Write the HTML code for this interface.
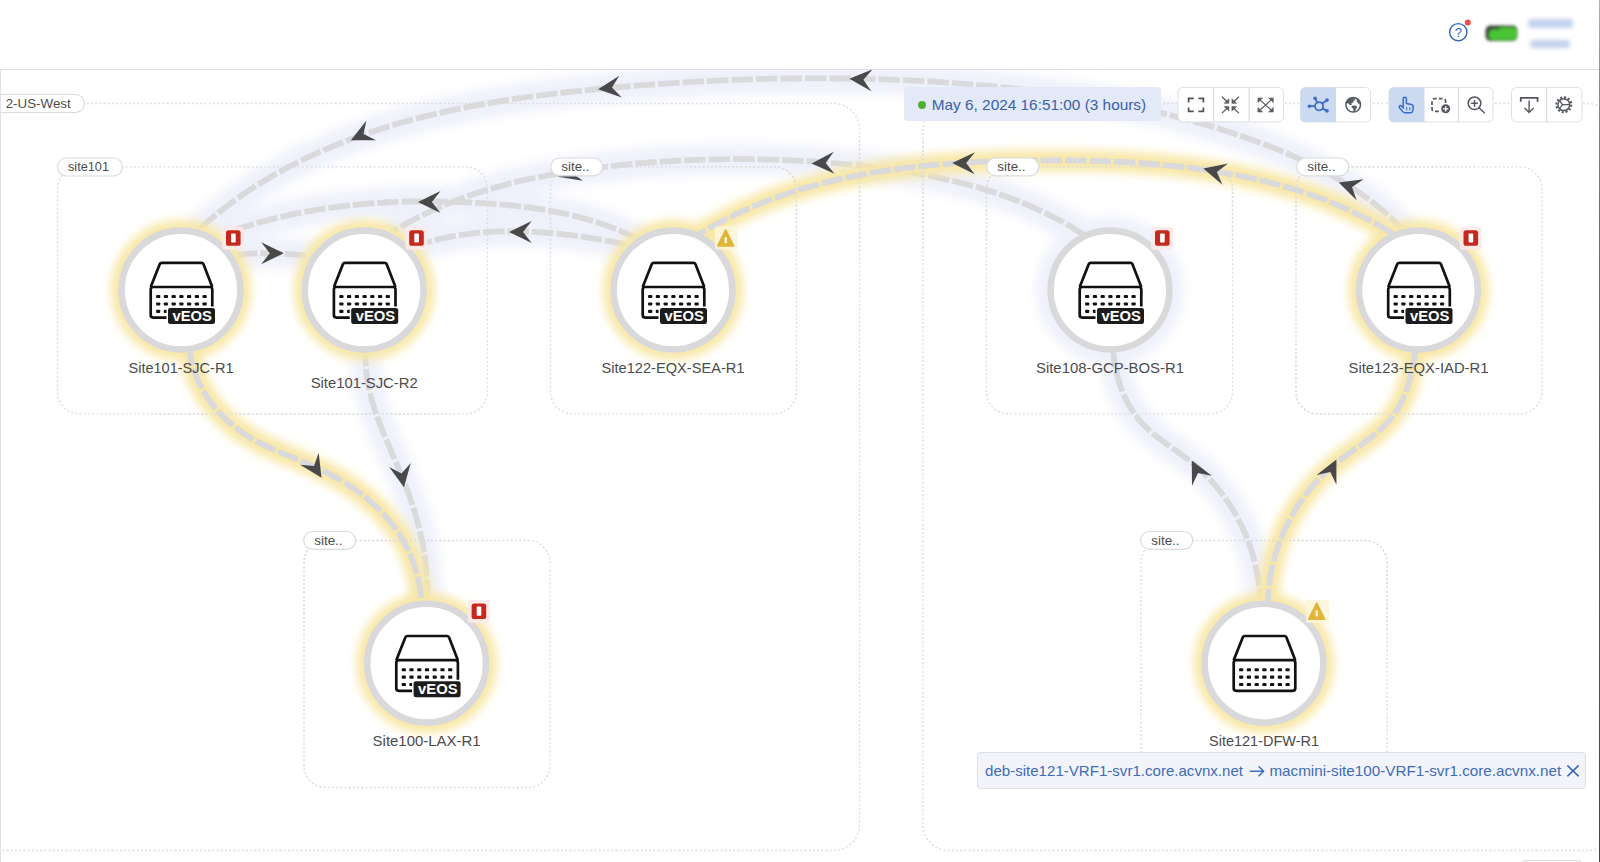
<!DOCTYPE html>
<html lang="en">
<head>
<meta charset="utf-8">
<title>Topology</title>
<style>
html,body{margin:0;padding:0;background:#fff;}
body{width:1600px;height:862px;overflow:hidden;position:relative;font-family:"Liberation Sans", sans-serif;}
#topo{position:absolute;left:0;top:0;}
.hdrline{position:absolute;left:0;top:69px;width:1600px;height:1px;background:#dcdde2;}
.leftline{position:absolute;left:0.3px;top:69px;width:1px;height:793px;background:#e0e1e6;}
.rightline{position:absolute;left:1598.5px;top:0;width:1.5px;height:862px;background:linear-gradient(#b2b0b0 0%,#8c8a8a 10%,#707070 25%,#5e5e5e 50%,#444 100%);}
.date{position:absolute;left:904px;top:87px;width:257px;height:34px;background:#e3e9f6;border-radius:4px;}
.date i{position:absolute;left:13.5px;top:13.5px;width:8.5px;height:8.5px;border-radius:50%;background:#4fae33;}
.grp{position:absolute;top:87px;height:35px;background:#fff;border:1px solid #dcdde2;border-radius:5px;box-sizing:border-box;overflow:hidden;}
.grp b{position:absolute;top:0;height:33px;display:block;}
.grp b.on{background:#cbd9f1;}
.grp b+b{border-left:1px solid #dcdde2;}
.pathlbl{position:absolute;left:977px;top:752px;width:609px;height:36.8px;box-sizing:border-box;background:#f2f4f9;border:1px solid #dcdfe7;border-radius:4px;}
</style>
</head>
<body>
<svg id="topo" width="1600" height="862" viewBox="0 0 1600 862">
<defs>
<filter id="bl" x="-5%" y="-20%" width="110%" height="140%"><feGaussianBlur stdDeviation="6"/></filter>
<filter id="by" x="-5%" y="-20%" width="110%" height="140%"><feGaussianBlur stdDeviation="5"/></filter>
<linearGradient id="edgeR" x1="0" y1="0" x2="0" y2="1"><stop offset="0" stop-color="#d6d6d6"/><stop offset="0.35" stop-color="#8a8a8a"/><stop offset="1" stop-color="#3c3c3c"/></linearGradient>
</defs>
<clipPath id="cv"><rect x="0" y="70" width="1600" height="800"/></clipPath>
<g clip-path="url(#cv)">
<g filter="url(#bl)" fill="none" stroke="#eef0fa" stroke-width="28" stroke-linecap="round">
<path d="M1405.2,231.9 L1399.6,226.0 L1393.7,220.4 L1387.8,214.9 L1381.7,209.6 L1375.4,204.5 L1369.1,199.6 L1362.6,194.9 L1356.1,190.3 L1349.4,186.0 L1342.6,181.7 L1335.8,177.6 L1328.8,173.7 L1321.8,169.9 L1314.7,166.2 L1307.5,162.7 L1300.3,159.3 L1292.9,156.0 L1285.6,152.8 L1278.2,149.7 L1270.7,146.8 L1263.2,143.9 L1255.7,141.1 L1248.1,138.4 L1240.5,135.7 L1232.9,133.2 L1225.3,130.7 L1217.6,128.3 L1210.0,126.0 L1202.3,123.7 L1194.5,121.6 L1186.8,119.5 L1179.0,117.4 L1171.3,115.4 L1163.5,113.5 L1155.6,111.7 L1147.8,109.9 L1140.0,108.2 L1132.1,106.6 L1124.2,105.0 L1116.3,103.5 L1108.4,102.0 L1100.5,100.6 L1092.6,99.2 L1084.6,97.9 L1076.7,96.7 L1068.7,95.5 L1060.8,94.3 L1052.8,93.2 L1044.8,92.1 L1036.8,91.1 L1028.8,90.2 L1020.9,89.3 L1012.9,88.4 L1004.9,87.5 L996.9,86.7 L988.9,86.0 L980.9,85.3 L972.9,84.6 L964.9,83.9 L956.9,83.3 L948.9,82.8 L940.9,82.2 L932.9,81.7 L924.9,81.2 L916.9,80.8 L908.9,80.4 L900.9,80.1 L892.9,79.7 L884.9,79.4 L876.9,79.2 L868.9,78.9 L860.9,78.8 L852.9,78.6 L844.9,78.5 L836.9,78.4 L828.9,78.3 L820.9,78.3 L812.9,78.3 L804.9,78.3 L796.9,78.4 L788.9,78.5 L780.9,78.6 L772.9,78.7 L764.9,78.9 L756.9,79.1 L748.9,79.4 L740.9,79.6 L732.9,79.9 L724.9,80.3 L716.8,80.6 L708.8,81.0 L700.8,81.4 L692.8,81.9 L684.8,82.3 L676.8,82.8 L668.8,83.3 L660.8,83.9 L652.7,84.5 L644.7,85.1 L636.7,85.7 L628.7,86.3 L620.7,87.0 L612.6,87.7 L604.6,88.4 L596.6,89.2 L588.6,90.0 L580.6,90.8 L572.5,91.6 L564.5,92.5 L556.5,93.4 L548.5,94.4 L540.5,95.4 L532.5,96.4 L524.6,97.5 L516.6,98.7 L508.6,99.9 L500.7,101.1 L492.8,102.4 L484.9,103.8 L477.0,105.2 L469.1,106.7 L461.2,108.3 L453.4,109.9 L445.5,111.6 L437.7,113.3 L430.0,115.2 L422.2,117.1 L414.5,119.1 L406.8,121.2 L399.1,123.3 L391.4,125.6 L383.8,127.9 L376.2,130.4 L368.6,132.9 L361.1,135.5 L353.6,138.2 L346.1,141.0 L338.7,144.0 L331.3,147.0 L323.9,150.1 L316.6,153.4 L309.3,156.7 L302.1,160.2 L294.9,163.8 L287.8,167.4 L280.7,171.3 L273.7,175.2 L266.8,179.2 L259.9,183.4 L253.2,187.7 L246.4,192.1 L239.8,196.7 L233.3,201.4 L226.8,206.2 L220.5,211.1 L214.2,216.2 L208.0,221.4 L202.0,226.8 L196.0,232.2"/>
<path d="M1084.6,235.3 L1080.8,232.8 L1076.8,230.4 L1072.9,228.0 L1069.0,225.6 L1065.0,223.3 L1061.0,221.1 L1057.0,218.9 L1053.0,216.8 L1048.9,214.8 L1044.8,212.8 L1040.8,210.8 L1036.7,208.9 L1032.5,207.1 L1028.4,205.3 L1024.3,203.5 L1020.1,201.8 L1015.9,200.2 L1011.7,198.6 L1007.5,197.0 L1003.3,195.5 L999.1,194.0 L994.8,192.6 L990.5,191.2 L986.3,189.9 L982.0,188.6 L977.7,187.3 L973.4,186.1 L969.0,185.0 L964.7,183.8 L960.3,182.7 L956.0,181.6 L951.6,180.6 L947.2,179.6 L942.9,178.6 L938.5,177.7 L934.1,176.8 L929.7,175.9 L925.2,175.1 L920.8,174.3 L916.4,173.5 L911.9,172.7 L907.5,172.0 L903.0,171.3 L898.6,170.6 L894.1,170.0 L889.6,169.4 L885.2,168.8 L880.7,168.2 L876.2,167.6 L871.7,167.1 L867.2,166.5 L862.7,166.0 L858.3,165.5 L853.8,165.1 L849.3,164.6 L844.8,164.2 L840.3,163.8 L835.8,163.4 L831.2,163.0 L826.7,162.6 L822.2,162.3 L817.7,162.0 L813.2,161.7 L808.7,161.4 L804.2,161.1 L799.6,160.8 L795.1,160.6 L790.6,160.4 L786.1,160.2 L781.6,160.0 L777.0,159.8 L772.5,159.7 L768.0,159.6 L763.5,159.5 L758.9,159.4 L754.4,159.3 L749.9,159.2 L745.4,159.2 L740.8,159.2 L736.3,159.2 L731.8,159.2 L727.2,159.2 L722.7,159.3 L718.2,159.3 L713.7,159.4 L709.1,159.5 L704.6,159.6 L700.1,159.8 L695.6,159.9 L691.0,160.1 L686.5,160.3 L682.0,160.5 L677.5,160.7 L672.9,161.0 L668.4,161.3 L663.9,161.5 L659.4,161.8 L654.9,162.2 L650.4,162.5 L645.9,162.9 L641.3,163.2 L636.8,163.6 L632.3,164.0 L627.8,164.5 L623.3,164.9 L618.8,165.4 L614.3,165.8 L609.8,166.3 L605.3,166.8 L600.9,167.4 L596.4,167.9 L591.9,168.5 L587.4,169.1 L582.9,169.7 L578.5,170.3 L574.0,171.0 L569.5,171.7 L565.1,172.4 L560.6,173.1 L556.2,173.9 L551.7,174.6 L547.3,175.4 L542.9,176.3 L538.5,177.1 L534.1,178.0 L529.7,179.0 L525.3,179.9 L520.9,180.9 L516.5,181.9 L512.2,183.0 L507.8,184.1 L503.5,185.2 L499.1,186.4 L494.8,187.6 L490.5,188.8 L486.2,190.1 L481.9,191.4 L477.6,192.8 L473.4,194.2 L469.1,195.7 L464.9,197.1 L460.7,198.7 L456.5,200.3 L452.3,201.9 L448.1,203.6 L443.9,205.3 L439.8,207.1 L435.7,208.9 L431.6,210.8 L427.5,212.7 L423.4,214.7 L419.3,216.7 L415.3,218.8 L411.3,220.9 L407.3,223.1 L403.3,225.3 L399.3,227.7 L395.4,230.0 L391.4,232.4"/>
<path d="M638.4,239.1 L636.0,238.0 L633.7,236.9 L631.4,235.8 L629.0,234.7 L626.7,233.6 L624.3,232.6 L621.9,231.6 L619.6,230.6 L617.2,229.6 L614.8,228.7 L612.4,227.7 L610.0,226.8 L607.6,226.0 L605.2,225.1 L602.7,224.3 L600.3,223.4 L597.9,222.6 L595.4,221.9 L593.0,221.1 L590.5,220.4 L588.1,219.6 L585.6,218.9 L583.1,218.2 L580.6,217.6 L578.2,216.9 L575.7,216.3 L573.2,215.7 L570.7,215.1 L568.2,214.5 L565.7,213.9 L563.2,213.4 L560.7,212.9 L558.1,212.4 L555.6,211.9 L553.1,211.4 L550.6,210.9 L548.0,210.5 L545.5,210.0 L542.9,209.6 L540.4,209.2 L537.8,208.8 L535.3,208.4 L532.7,208.0 L530.2,207.7 L527.6,207.3 L525.1,207.0 L522.5,206.7 L519.9,206.4 L517.3,206.1 L514.8,205.8 L512.2,205.5 L509.6,205.3 L507.0,205.0 L504.5,204.8 L501.9,204.6 L499.3,204.3 L496.7,204.1 L494.1,203.9 L491.5,203.7 L488.9,203.6 L486.3,203.4 L483.8,203.2 L481.2,203.1 L478.6,202.9 L476.0,202.8 L473.4,202.6 L470.8,202.5 L468.2,202.4 L465.6,202.3 L463.0,202.2 L460.4,202.1 L457.8,202.0 L455.2,201.9 L452.6,201.8 L450.0,201.7 L447.4,201.7 L444.8,201.6 L442.2,201.6 L439.7,201.5 L437.1,201.5 L434.5,201.4 L431.9,201.4 L429.3,201.4 L426.7,201.4 L424.1,201.4 L421.5,201.4 L418.9,201.4 L416.3,201.5 L413.7,201.5 L411.1,201.6 L408.6,201.6 L406.0,201.7 L403.4,201.7 L400.8,201.8 L398.2,201.9 L395.6,202.0 L393.0,202.1 L390.5,202.2 L387.9,202.4 L385.3,202.5 L382.7,202.6 L380.1,202.8 L377.5,203.0 L375.0,203.1 L372.4,203.3 L369.8,203.5 L367.2,203.7 L364.7,203.9 L362.1,204.1 L359.5,204.4 L357.0,204.6 L354.4,204.9 L351.8,205.1 L349.3,205.4 L346.7,205.7 L344.1,206.0 L341.6,206.3 L339.0,206.6 L336.5,206.9 L333.9,207.3 L331.4,207.6 L328.8,208.0 L326.3,208.3 L323.7,208.7 L321.2,209.1 L318.6,209.5 L316.1,209.9 L313.5,210.3 L311.0,210.8 L308.5,211.2 L305.9,211.7 L303.4,212.2 L300.9,212.7 L298.3,213.2 L295.8,213.7 L293.3,214.2 L290.8,214.7 L288.2,215.3 L285.7,215.8 L283.2,216.4 L280.7,217.0 L278.2,217.6 L275.7,218.2 L273.2,218.8 L270.7,219.4 L268.2,220.1 L265.7,220.8 L263.2,221.4 L260.7,222.1 L258.2,222.8 L255.7,223.5 L253.2,224.3 L250.7,225.0 L248.3,225.8 L245.8,226.5 L243.3,227.3 L240.9,228.1 L238.4,228.9 L235.9,229.8"/>
<path d="M626.0,244.5 L624.7,244.3 L623.4,244.0 L622.1,243.8 L620.9,243.5 L619.6,243.2 L618.3,243.0 L617.0,242.7 L615.7,242.5 L614.4,242.2 L613.2,242.0 L611.9,241.7 L610.6,241.5 L609.3,241.3 L608.0,241.0 L606.7,240.8 L605.4,240.5 L604.1,240.3 L602.8,240.1 L601.5,239.9 L600.2,239.6 L598.9,239.4 L597.6,239.2 L596.3,239.0 L595.0,238.7 L593.7,238.5 L592.4,238.3 L591.1,238.1 L589.8,237.9 L588.5,237.7 L587.1,237.5 L585.8,237.3 L584.5,237.1 L583.2,236.9 L581.9,236.7 L580.6,236.5 L579.3,236.3 L577.9,236.1 L576.6,236.0 L575.3,235.8 L574.0,235.6 L572.7,235.4 L571.4,235.3 L570.0,235.1 L568.7,234.9 L567.4,234.8 L566.1,234.6 L564.7,234.5 L563.4,234.3 L562.1,234.2 L560.8,234.0 L559.4,233.9 L558.1,233.7 L556.8,233.6 L555.5,233.5 L554.1,233.4 L552.8,233.2 L551.5,233.1 L550.2,233.0 L548.8,232.9 L547.5,232.8 L546.2,232.7 L544.8,232.6 L543.5,232.5 L542.2,232.4 L540.9,232.3 L539.5,232.2 L538.2,232.1 L536.9,232.0 L535.5,231.9 L534.2,231.9 L532.9,231.8 L531.5,231.7 L530.2,231.7 L528.9,231.6 L527.5,231.6 L526.2,231.5 L524.9,231.5 L523.5,231.4 L522.2,231.4 L520.9,231.4 L519.6,231.3 L518.2,231.3 L516.9,231.3 L515.6,231.3 L514.2,231.3 L512.9,231.3 L511.6,231.3 L510.2,231.3 L508.9,231.3 L507.6,231.3 L506.3,231.3 L504.9,231.3 L503.6,231.4 L502.3,231.4 L500.9,231.4 L499.6,231.5 L498.3,231.5 L497.0,231.6 L495.6,231.6 L494.3,231.7 L493.0,231.7 L491.7,231.8 L490.3,231.9 L489.0,232.0 L487.7,232.1 L486.4,232.1 L485.1,232.2 L483.7,232.3 L482.4,232.5 L481.1,232.6 L479.8,232.7 L478.5,232.8 L477.1,232.9 L475.8,233.1 L474.5,233.2 L473.2,233.3 L471.9,233.5 L470.6,233.6 L469.3,233.8 L467.9,234.0 L466.6,234.1 L465.3,234.3 L464.0,234.5 L462.7,234.7 L461.4,234.9 L460.1,235.1 L458.8,235.3 L457.5,235.5 L456.2,235.7 L454.9,235.9 L453.6,236.2 L452.3,236.4 L451.0,236.7 L449.7,236.9 L448.4,237.2 L447.1,237.4 L445.8,237.7 L444.5,238.0 L443.2,238.2 L441.9,238.5 L440.7,238.8 L439.4,239.1 L438.1,239.4 L436.8,239.7 L435.5,240.0 L434.2,240.4 L433.0,240.7 L431.7,241.0 L430.4,241.4 L429.1,241.7 L427.9,242.1 L426.6,242.4 L425.3,242.8 L424.0,243.2 L422.8,243.6 L421.5,244.0 L420.3,244.3 L419.0,244.8 L417.7,245.2"/>
<path d="M236.0,255.4 L236.5,255.3 L236.9,255.3 L237.4,255.2 L237.9,255.1 L238.4,255.0 L238.9,255.0 L239.3,254.9 L239.8,254.8 L240.3,254.7 L240.8,254.7 L241.3,254.6 L241.8,254.5 L242.2,254.5 L242.7,254.4 L243.2,254.4 L243.7,254.3 L244.2,254.3 L244.6,254.2 L245.1,254.1 L245.6,254.1 L246.1,254.0 L246.6,254.0 L247.1,254.0 L247.5,253.9 L248.0,253.9 L248.5,253.8 L249.0,253.8 L249.5,253.7 L250.0,253.7 L250.4,253.7 L250.9,253.6 L251.4,253.6 L251.9,253.6 L252.4,253.5 L252.9,253.5 L253.3,253.5 L253.8,253.4 L254.3,253.4 L254.8,253.4 L255.3,253.4 L255.8,253.4 L256.3,253.3 L256.7,253.3 L257.2,253.3 L257.7,253.3 L258.2,253.3 L258.7,253.2 L259.2,253.2 L259.7,253.2 L260.1,253.2 L260.6,253.2 L261.1,253.2 L261.6,253.2 L262.1,253.2 L262.6,253.2 L263.1,253.2 L263.5,253.2 L264.0,253.2 L264.5,253.2 L265.0,253.2 L265.5,253.2 L266.0,253.2 L266.5,253.2 L266.9,253.2 L267.4,253.2 L267.9,253.2 L268.4,253.2 L268.9,253.2 L269.4,253.2 L269.9,253.2 L270.4,253.2 L270.8,253.2 L271.3,253.2 L271.8,253.3 L272.3,253.3 L272.8,253.3 L273.3,253.3 L273.8,253.3 L274.2,253.3 L274.7,253.3 L275.2,253.4 L275.7,253.4 L276.2,253.4 L276.7,253.4 L277.2,253.4 L277.6,253.5 L278.1,253.5 L278.6,253.5 L279.1,253.5 L279.6,253.6 L280.1,253.6 L280.6,253.6 L281.1,253.6 L281.5,253.7 L282.0,253.7 L282.5,253.7 L283.0,253.7 L283.5,253.8 L284.0,253.8 L284.5,253.8 L284.9,253.9 L285.4,253.9 L285.9,253.9 L286.4,253.9 L286.9,254.0 L287.4,254.0 L287.9,254.0 L288.3,254.1 L288.8,254.1 L289.3,254.1 L289.8,254.2 L290.3,254.2 L290.8,254.2 L291.3,254.3 L291.7,254.3 L292.2,254.3 L292.7,254.4 L293.2,254.4 L293.7,254.5 L294.2,254.5 L294.7,254.5 L295.1,254.6 L295.6,254.6 L296.1,254.6 L296.6,254.7 L297.1,254.7 L297.6,254.8 L298.0,254.8 L298.5,254.8 L299.0,254.9 L299.5,254.9 L300.0,254.9 L300.5,255.0 L300.9,255.0 L301.4,255.1 L301.9,255.1 L302.4,255.1 L302.9,255.2 L303.4,255.2 L303.8,255.2 L304.3,255.3 L304.8,255.3 L305.3,255.4 L305.8,255.4 L306.3,255.4 L306.7,255.5 L307.2,255.5 L307.7,255.5 L308.2,255.6 L308.7,255.6 L309.1,255.7 L309.6,255.7 L310.1,255.7 L310.6,255.8 L311.1,255.8 L311.5,255.8 L312.0,255.9 L312.5,255.9 L313.0,255.9"/>
<path d="M366.2,344.6 L366.1,346.5 L365.9,348.3 L365.8,350.1 L365.7,351.9 L365.7,353.7 L365.6,355.5 L365.6,357.3 L365.6,359.1 L365.6,360.8 L365.7,362.6 L365.8,364.4 L365.9,366.1 L366.0,367.9 L366.1,369.6 L366.3,371.3 L366.5,373.1 L366.7,374.8 L366.9,376.5 L367.1,378.2 L367.4,379.9 L367.7,381.6 L368.0,383.3 L368.3,385.0 L368.6,386.7 L369.0,388.4 L369.3,390.1 L369.7,391.7 L370.1,393.4 L370.5,395.1 L370.9,396.7 L371.4,398.4 L371.8,400.0 L372.3,401.7 L372.8,403.3 L373.3,405.0 L373.8,406.6 L374.3,408.2 L374.8,409.9 L375.4,411.5 L375.9,413.1 L376.5,414.7 L377.1,416.4 L377.6,418.0 L378.2,419.6 L378.8,421.2 L379.4,422.8 L380.1,424.4 L380.7,426.0 L381.3,427.6 L381.9,429.2 L382.6,430.8 L383.2,432.4 L383.9,434.0 L384.6,435.6 L385.2,437.2 L385.9,438.8 L386.6,440.4 L387.2,442.0 L387.9,443.5 L388.6,445.1 L389.3,446.7 L390.0,448.3 L390.7,449.9 L391.3,451.5 L392.0,453.1 L392.7,454.6 L393.4,456.2 L394.1,457.8 L394.8,459.4 L395.5,461.0 L396.2,462.6 L396.8,464.2 L397.5,465.8 L398.2,467.4 L398.9,468.9 L399.5,470.5 L400.2,472.1 L400.9,473.7 L401.5,475.3 L402.2,476.9 L402.8,478.5 L403.4,480.1 L404.1,481.7 L404.7,483.3 L405.3,485.0 L405.9,486.6 L406.6,488.2 L407.2,489.8 L407.8,491.4 L408.3,493.0 L408.9,494.6 L409.5,496.3 L410.1,497.9 L410.6,499.5 L411.2,501.1 L411.7,502.8 L412.3,504.4 L412.8,506.0 L413.3,507.7 L413.9,509.3 L414.4,510.9 L414.9,512.6 L415.4,514.2 L415.8,515.9 L416.3,517.5 L416.8,519.2 L417.2,520.8 L417.7,522.5 L418.1,524.1 L418.6,525.8 L419.0,527.5 L419.4,529.1 L419.8,530.8 L420.2,532.5 L420.6,534.1 L420.9,535.8 L421.3,537.5 L421.7,539.2 L422.0,540.8 L422.3,542.5 L422.6,544.2 L423.0,545.9 L423.3,547.6 L423.5,549.3 L423.8,551.0 L424.1,552.7 L424.3,554.4 L424.6,556.1 L424.8,557.8 L425.0,559.5 L425.2,561.2 L425.4,562.9 L425.6,564.6 L425.8,566.4 L425.9,568.1 L426.1,569.8 L426.2,571.5 L426.3,573.3 L426.4,575.0 L426.5,576.7 L426.6,578.5 L426.7,580.2 L426.7,582.0 L426.8,583.7 L426.8,585.5 L426.8,587.2 L426.8,589.0 L426.8,590.7 L426.7,592.5 L426.7,594.3 L426.6,596.0 L426.5,597.8 L426.4,599.6 L426.3,601.4 L426.2,603.1 L426.1,604.9 L425.9,606.7 L425.8,608.5 L425.6,610.3"/>
<path d="M1260.7,610.2 L1260.7,608.1 L1260.7,606.1 L1260.6,604.1 L1260.6,602.1 L1260.5,600.1 L1260.4,598.0 L1260.2,596.0 L1260.1,594.0 L1259.9,592.0 L1259.7,590.0 L1259.5,588.0 L1259.3,586.0 L1259.0,584.0 L1258.7,582.0 L1258.4,580.0 L1258.1,578.0 L1257.8,576.1 L1257.4,574.1 L1257.0,572.1 L1256.6,570.2 L1256.2,568.2 L1255.8,566.3 L1255.3,564.3 L1254.9,562.4 L1254.4,560.4 L1253.8,558.5 L1253.3,556.6 L1252.7,554.7 L1252.2,552.7 L1251.6,550.8 L1251.0,548.9 L1250.3,547.1 L1249.7,545.2 L1249.0,543.3 L1248.3,541.4 L1247.6,539.6 L1246.9,537.7 L1246.1,535.9 L1245.3,534.0 L1244.5,532.2 L1243.7,530.4 L1242.9,528.6 L1242.1,526.8 L1241.2,525.0 L1240.3,523.2 L1239.4,521.5 L1238.5,519.7 L1237.6,517.9 L1236.6,516.2 L1235.7,514.5 L1234.7,512.7 L1233.7,511.0 L1232.7,509.3 L1231.6,507.6 L1230.6,506.0 L1229.5,504.3 L1228.4,502.6 L1227.3,501.0 L1226.1,499.4 L1225.0,497.8 L1223.8,496.2 L1222.7,494.6 L1221.5,493.0 L1220.2,491.4 L1219.0,489.9 L1217.8,488.3 L1216.5,486.8 L1215.2,485.3 L1213.9,483.8 L1212.6,482.3 L1211.3,480.8 L1209.9,479.3 L1208.6,477.9 L1207.2,476.5 L1205.8,475.1 L1204.4,473.6 L1203.0,472.3 L1201.5,470.9 L1200.1,469.5 L1198.6,468.2 L1197.1,466.9 L1195.6,465.6 L1194.1,464.3 L1192.5,463.0 L1191.0,461.7 L1189.4,460.5 L1187.8,459.3 L1186.2,458.1 L1184.6,456.9 L1183.0,455.7 L1181.4,454.5 L1179.8,453.3 L1178.1,452.1 L1176.5,451.0 L1174.9,449.8 L1173.2,448.7 L1171.6,447.5 L1170.0,446.4 L1168.3,445.2 L1166.7,444.0 L1165.1,442.9 L1163.5,441.7 L1161.9,440.5 L1160.3,439.3 L1158.7,438.1 L1157.1,436.9 L1155.6,435.7 L1154.0,434.4 L1152.5,433.2 L1151.0,431.9 L1149.5,430.6 L1148.1,429.3 L1146.7,427.9 L1145.3,426.5 L1143.9,425.2 L1142.5,423.7 L1141.2,422.3 L1139.9,420.8 L1138.6,419.3 L1137.4,417.8 L1136.2,416.2 L1135.0,414.7 L1133.9,413.1 L1132.8,411.4 L1131.7,409.8 L1130.6,408.1 L1129.6,406.4 L1128.6,404.7 L1127.7,402.9 L1126.8,401.2 L1125.9,399.4 L1125.0,397.6 L1124.2,395.8 L1123.4,393.9 L1122.6,392.1 L1121.9,390.2 L1121.2,388.3 L1120.5,386.4 L1119.9,384.5 L1119.2,382.5 L1118.6,380.6 L1118.1,378.6 L1117.6,376.7 L1117.1,374.7 L1116.6,372.7 L1116.1,370.7 L1115.7,368.7 L1115.3,366.7 L1115.0,364.8 L1114.6,362.8 L1114.3,360.8 L1114.0,358.8 L1113.7,356.8 L1113.5,354.8 L1113.3,352.8 L1113.1,350.8 L1112.9,348.9 L1112.8,346.9 L1112.6,344.9"/>
<circle cx="1110" cy="290" r="62" stroke-width="22"/>
</g>
<g fill="none" stroke="#dcdde1" stroke-width="1.35" stroke-dasharray="2 2.2">
<rect x="-40" y="103.5" width="899.5" height="747" rx="26"/>
<rect x="922.8" y="103.5" width="691.2" height="747" rx="26"/>
<rect x="57.5" y="166.8" width="430" height="247" rx="22"/>
<rect x="550.5" y="166.8" width="246" height="247" rx="22"/>
<rect x="986.5" y="166.8" width="246" height="247" rx="22"/>
<rect x="1296" y="166.8" width="246" height="247" rx="22"/>
<rect x="304" y="540.5" width="246" height="247" rx="22"/>
<rect x="1141" y="540.5" width="246" height="247" rx="22"/>
</g>
<g fill="none" stroke="#dad9dc" stroke-width="5.8" stroke-dasharray="21.5 3">
<path d="M1405.2,231.9 L1399.6,226.0 L1393.7,220.4 L1387.8,214.9 L1381.7,209.6 L1375.4,204.5 L1369.1,199.6 L1362.6,194.9 L1356.1,190.3 L1349.4,186.0 L1342.6,181.7 L1335.8,177.6 L1328.8,173.7 L1321.8,169.9 L1314.7,166.2 L1307.5,162.7 L1300.3,159.3 L1292.9,156.0 L1285.6,152.8 L1278.2,149.7 L1270.7,146.8 L1263.2,143.9 L1255.7,141.1 L1248.1,138.4 L1240.5,135.7 L1232.9,133.2 L1225.3,130.7 L1217.6,128.3 L1210.0,126.0 L1202.3,123.7 L1194.5,121.6 L1186.8,119.5 L1179.0,117.4 L1171.3,115.4 L1163.5,113.5 L1155.6,111.7 L1147.8,109.9 L1140.0,108.2 L1132.1,106.6 L1124.2,105.0 L1116.3,103.5 L1108.4,102.0 L1100.5,100.6 L1092.6,99.2 L1084.6,97.9 L1076.7,96.7 L1068.7,95.5 L1060.8,94.3 L1052.8,93.2 L1044.8,92.1 L1036.8,91.1 L1028.8,90.2 L1020.9,89.3 L1012.9,88.4 L1004.9,87.5 L996.9,86.7 L988.9,86.0 L980.9,85.3 L972.9,84.6 L964.9,83.9 L956.9,83.3 L948.9,82.8 L940.9,82.2 L932.9,81.7 L924.9,81.2 L916.9,80.8 L908.9,80.4 L900.9,80.1 L892.9,79.7 L884.9,79.4 L876.9,79.2 L868.9,78.9 L860.9,78.8 L852.9,78.6 L844.9,78.5 L836.9,78.4 L828.9,78.3 L820.9,78.3 L812.9,78.3 L804.9,78.3 L796.9,78.4 L788.9,78.5 L780.9,78.6 L772.9,78.7 L764.9,78.9 L756.9,79.1 L748.9,79.4 L740.9,79.6 L732.9,79.9 L724.9,80.3 L716.8,80.6 L708.8,81.0 L700.8,81.4 L692.8,81.9 L684.8,82.3 L676.8,82.8 L668.8,83.3 L660.8,83.9 L652.7,84.5 L644.7,85.1 L636.7,85.7 L628.7,86.3 L620.7,87.0 L612.6,87.7 L604.6,88.4 L596.6,89.2 L588.6,90.0 L580.6,90.8 L572.5,91.6 L564.5,92.5 L556.5,93.4 L548.5,94.4 L540.5,95.4 L532.5,96.4 L524.6,97.5 L516.6,98.7 L508.6,99.9 L500.7,101.1 L492.8,102.4 L484.9,103.8 L477.0,105.2 L469.1,106.7 L461.2,108.3 L453.4,109.9 L445.5,111.6 L437.7,113.3 L430.0,115.2 L422.2,117.1 L414.5,119.1 L406.8,121.2 L399.1,123.3 L391.4,125.6 L383.8,127.9 L376.2,130.4 L368.6,132.9 L361.1,135.5 L353.6,138.2 L346.1,141.0 L338.7,144.0 L331.3,147.0 L323.9,150.1 L316.6,153.4 L309.3,156.7 L302.1,160.2 L294.9,163.8 L287.8,167.4 L280.7,171.3 L273.7,175.2 L266.8,179.2 L259.9,183.4 L253.2,187.7 L246.4,192.1 L239.8,196.7 L233.3,201.4 L226.8,206.2 L220.5,211.1 L214.2,216.2 L208.0,221.4 L202.0,226.8 L196.0,232.2"/>
<path d="M1084.6,235.3 L1080.8,232.8 L1076.8,230.4 L1072.9,228.0 L1069.0,225.6 L1065.0,223.3 L1061.0,221.1 L1057.0,218.9 L1053.0,216.8 L1048.9,214.8 L1044.8,212.8 L1040.8,210.8 L1036.7,208.9 L1032.5,207.1 L1028.4,205.3 L1024.3,203.5 L1020.1,201.8 L1015.9,200.2 L1011.7,198.6 L1007.5,197.0 L1003.3,195.5 L999.1,194.0 L994.8,192.6 L990.5,191.2 L986.3,189.9 L982.0,188.6 L977.7,187.3 L973.4,186.1 L969.0,185.0 L964.7,183.8 L960.3,182.7 L956.0,181.6 L951.6,180.6 L947.2,179.6 L942.9,178.6 L938.5,177.7 L934.1,176.8 L929.7,175.9 L925.2,175.1 L920.8,174.3 L916.4,173.5 L911.9,172.7 L907.5,172.0 L903.0,171.3 L898.6,170.6 L894.1,170.0 L889.6,169.4 L885.2,168.8 L880.7,168.2 L876.2,167.6 L871.7,167.1 L867.2,166.5 L862.7,166.0 L858.3,165.5 L853.8,165.1 L849.3,164.6 L844.8,164.2 L840.3,163.8 L835.8,163.4 L831.2,163.0 L826.7,162.6 L822.2,162.3 L817.7,162.0 L813.2,161.7 L808.7,161.4 L804.2,161.1 L799.6,160.8 L795.1,160.6 L790.6,160.4 L786.1,160.2 L781.6,160.0 L777.0,159.8 L772.5,159.7 L768.0,159.6 L763.5,159.5 L758.9,159.4 L754.4,159.3 L749.9,159.2 L745.4,159.2 L740.8,159.2 L736.3,159.2 L731.8,159.2 L727.2,159.2 L722.7,159.3 L718.2,159.3 L713.7,159.4 L709.1,159.5 L704.6,159.6 L700.1,159.8 L695.6,159.9 L691.0,160.1 L686.5,160.3 L682.0,160.5 L677.5,160.7 L672.9,161.0 L668.4,161.3 L663.9,161.5 L659.4,161.8 L654.9,162.2 L650.4,162.5 L645.9,162.9 L641.3,163.2 L636.8,163.6 L632.3,164.0 L627.8,164.5 L623.3,164.9 L618.8,165.4 L614.3,165.8 L609.8,166.3 L605.3,166.8 L600.9,167.4 L596.4,167.9 L591.9,168.5 L587.4,169.1 L582.9,169.7 L578.5,170.3 L574.0,171.0 L569.5,171.7 L565.1,172.4 L560.6,173.1 L556.2,173.9 L551.7,174.6 L547.3,175.4 L542.9,176.3 L538.5,177.1 L534.1,178.0 L529.7,179.0 L525.3,179.9 L520.9,180.9 L516.5,181.9 L512.2,183.0 L507.8,184.1 L503.5,185.2 L499.1,186.4 L494.8,187.6 L490.5,188.8 L486.2,190.1 L481.9,191.4 L477.6,192.8 L473.4,194.2 L469.1,195.7 L464.9,197.1 L460.7,198.7 L456.5,200.3 L452.3,201.9 L448.1,203.6 L443.9,205.3 L439.8,207.1 L435.7,208.9 L431.6,210.8 L427.5,212.7 L423.4,214.7 L419.3,216.7 L415.3,218.8 L411.3,220.9 L407.3,223.1 L403.3,225.3 L399.3,227.7 L395.4,230.0 L391.4,232.4"/>
<path d="M638.4,239.1 L636.0,238.0 L633.7,236.9 L631.4,235.8 L629.0,234.7 L626.7,233.6 L624.3,232.6 L621.9,231.6 L619.6,230.6 L617.2,229.6 L614.8,228.7 L612.4,227.7 L610.0,226.8 L607.6,226.0 L605.2,225.1 L602.7,224.3 L600.3,223.4 L597.9,222.6 L595.4,221.9 L593.0,221.1 L590.5,220.4 L588.1,219.6 L585.6,218.9 L583.1,218.2 L580.6,217.6 L578.2,216.9 L575.7,216.3 L573.2,215.7 L570.7,215.1 L568.2,214.5 L565.7,213.9 L563.2,213.4 L560.7,212.9 L558.1,212.4 L555.6,211.9 L553.1,211.4 L550.6,210.9 L548.0,210.5 L545.5,210.0 L542.9,209.6 L540.4,209.2 L537.8,208.8 L535.3,208.4 L532.7,208.0 L530.2,207.7 L527.6,207.3 L525.1,207.0 L522.5,206.7 L519.9,206.4 L517.3,206.1 L514.8,205.8 L512.2,205.5 L509.6,205.3 L507.0,205.0 L504.5,204.8 L501.9,204.6 L499.3,204.3 L496.7,204.1 L494.1,203.9 L491.5,203.7 L488.9,203.6 L486.3,203.4 L483.8,203.2 L481.2,203.1 L478.6,202.9 L476.0,202.8 L473.4,202.6 L470.8,202.5 L468.2,202.4 L465.6,202.3 L463.0,202.2 L460.4,202.1 L457.8,202.0 L455.2,201.9 L452.6,201.8 L450.0,201.7 L447.4,201.7 L444.8,201.6 L442.2,201.6 L439.7,201.5 L437.1,201.5 L434.5,201.4 L431.9,201.4 L429.3,201.4 L426.7,201.4 L424.1,201.4 L421.5,201.4 L418.9,201.4 L416.3,201.5 L413.7,201.5 L411.1,201.6 L408.6,201.6 L406.0,201.7 L403.4,201.7 L400.8,201.8 L398.2,201.9 L395.6,202.0 L393.0,202.1 L390.5,202.2 L387.9,202.4 L385.3,202.5 L382.7,202.6 L380.1,202.8 L377.5,203.0 L375.0,203.1 L372.4,203.3 L369.8,203.5 L367.2,203.7 L364.7,203.9 L362.1,204.1 L359.5,204.4 L357.0,204.6 L354.4,204.9 L351.8,205.1 L349.3,205.4 L346.7,205.7 L344.1,206.0 L341.6,206.3 L339.0,206.6 L336.5,206.9 L333.9,207.3 L331.4,207.6 L328.8,208.0 L326.3,208.3 L323.7,208.7 L321.2,209.1 L318.6,209.5 L316.1,209.9 L313.5,210.3 L311.0,210.8 L308.5,211.2 L305.9,211.7 L303.4,212.2 L300.9,212.7 L298.3,213.2 L295.8,213.7 L293.3,214.2 L290.8,214.7 L288.2,215.3 L285.7,215.8 L283.2,216.4 L280.7,217.0 L278.2,217.6 L275.7,218.2 L273.2,218.8 L270.7,219.4 L268.2,220.1 L265.7,220.8 L263.2,221.4 L260.7,222.1 L258.2,222.8 L255.7,223.5 L253.2,224.3 L250.7,225.0 L248.3,225.8 L245.8,226.5 L243.3,227.3 L240.9,228.1 L238.4,228.9 L235.9,229.8"/>
<path d="M626.0,244.5 L624.7,244.3 L623.4,244.0 L622.1,243.8 L620.9,243.5 L619.6,243.2 L618.3,243.0 L617.0,242.7 L615.7,242.5 L614.4,242.2 L613.2,242.0 L611.9,241.7 L610.6,241.5 L609.3,241.3 L608.0,241.0 L606.7,240.8 L605.4,240.5 L604.1,240.3 L602.8,240.1 L601.5,239.9 L600.2,239.6 L598.9,239.4 L597.6,239.2 L596.3,239.0 L595.0,238.7 L593.7,238.5 L592.4,238.3 L591.1,238.1 L589.8,237.9 L588.5,237.7 L587.1,237.5 L585.8,237.3 L584.5,237.1 L583.2,236.9 L581.9,236.7 L580.6,236.5 L579.3,236.3 L577.9,236.1 L576.6,236.0 L575.3,235.8 L574.0,235.6 L572.7,235.4 L571.4,235.3 L570.0,235.1 L568.7,234.9 L567.4,234.8 L566.1,234.6 L564.7,234.5 L563.4,234.3 L562.1,234.2 L560.8,234.0 L559.4,233.9 L558.1,233.7 L556.8,233.6 L555.5,233.5 L554.1,233.4 L552.8,233.2 L551.5,233.1 L550.2,233.0 L548.8,232.9 L547.5,232.8 L546.2,232.7 L544.8,232.6 L543.5,232.5 L542.2,232.4 L540.9,232.3 L539.5,232.2 L538.2,232.1 L536.9,232.0 L535.5,231.9 L534.2,231.9 L532.9,231.8 L531.5,231.7 L530.2,231.7 L528.9,231.6 L527.5,231.6 L526.2,231.5 L524.9,231.5 L523.5,231.4 L522.2,231.4 L520.9,231.4 L519.6,231.3 L518.2,231.3 L516.9,231.3 L515.6,231.3 L514.2,231.3 L512.9,231.3 L511.6,231.3 L510.2,231.3 L508.9,231.3 L507.6,231.3 L506.3,231.3 L504.9,231.3 L503.6,231.4 L502.3,231.4 L500.9,231.4 L499.6,231.5 L498.3,231.5 L497.0,231.6 L495.6,231.6 L494.3,231.7 L493.0,231.7 L491.7,231.8 L490.3,231.9 L489.0,232.0 L487.7,232.1 L486.4,232.1 L485.1,232.2 L483.7,232.3 L482.4,232.5 L481.1,232.6 L479.8,232.7 L478.5,232.8 L477.1,232.9 L475.8,233.1 L474.5,233.2 L473.2,233.3 L471.9,233.5 L470.6,233.6 L469.3,233.8 L467.9,234.0 L466.6,234.1 L465.3,234.3 L464.0,234.5 L462.7,234.7 L461.4,234.9 L460.1,235.1 L458.8,235.3 L457.5,235.5 L456.2,235.7 L454.9,235.9 L453.6,236.2 L452.3,236.4 L451.0,236.7 L449.7,236.9 L448.4,237.2 L447.1,237.4 L445.8,237.7 L444.5,238.0 L443.2,238.2 L441.9,238.5 L440.7,238.8 L439.4,239.1 L438.1,239.4 L436.8,239.7 L435.5,240.0 L434.2,240.4 L433.0,240.7 L431.7,241.0 L430.4,241.4 L429.1,241.7 L427.9,242.1 L426.6,242.4 L425.3,242.8 L424.0,243.2 L422.8,243.6 L421.5,244.0 L420.3,244.3 L419.0,244.8 L417.7,245.2"/>
<path d="M236.0,255.4 L236.5,255.3 L236.9,255.3 L237.4,255.2 L237.9,255.1 L238.4,255.0 L238.9,255.0 L239.3,254.9 L239.8,254.8 L240.3,254.7 L240.8,254.7 L241.3,254.6 L241.8,254.5 L242.2,254.5 L242.7,254.4 L243.2,254.4 L243.7,254.3 L244.2,254.3 L244.6,254.2 L245.1,254.1 L245.6,254.1 L246.1,254.0 L246.6,254.0 L247.1,254.0 L247.5,253.9 L248.0,253.9 L248.5,253.8 L249.0,253.8 L249.5,253.7 L250.0,253.7 L250.4,253.7 L250.9,253.6 L251.4,253.6 L251.9,253.6 L252.4,253.5 L252.9,253.5 L253.3,253.5 L253.8,253.4 L254.3,253.4 L254.8,253.4 L255.3,253.4 L255.8,253.4 L256.3,253.3 L256.7,253.3 L257.2,253.3 L257.7,253.3 L258.2,253.3 L258.7,253.2 L259.2,253.2 L259.7,253.2 L260.1,253.2 L260.6,253.2 L261.1,253.2 L261.6,253.2 L262.1,253.2 L262.6,253.2 L263.1,253.2 L263.5,253.2 L264.0,253.2 L264.5,253.2 L265.0,253.2 L265.5,253.2 L266.0,253.2 L266.5,253.2 L266.9,253.2 L267.4,253.2 L267.9,253.2 L268.4,253.2 L268.9,253.2 L269.4,253.2 L269.9,253.2 L270.4,253.2 L270.8,253.2 L271.3,253.2 L271.8,253.3 L272.3,253.3 L272.8,253.3 L273.3,253.3 L273.8,253.3 L274.2,253.3 L274.7,253.3 L275.2,253.4 L275.7,253.4 L276.2,253.4 L276.7,253.4 L277.2,253.4 L277.6,253.5 L278.1,253.5 L278.6,253.5 L279.1,253.5 L279.6,253.6 L280.1,253.6 L280.6,253.6 L281.1,253.6 L281.5,253.7 L282.0,253.7 L282.5,253.7 L283.0,253.7 L283.5,253.8 L284.0,253.8 L284.5,253.8 L284.9,253.9 L285.4,253.9 L285.9,253.9 L286.4,253.9 L286.9,254.0 L287.4,254.0 L287.9,254.0 L288.3,254.1 L288.8,254.1 L289.3,254.1 L289.8,254.2 L290.3,254.2 L290.8,254.2 L291.3,254.3 L291.7,254.3 L292.2,254.3 L292.7,254.4 L293.2,254.4 L293.7,254.5 L294.2,254.5 L294.7,254.5 L295.1,254.6 L295.6,254.6 L296.1,254.6 L296.6,254.7 L297.1,254.7 L297.6,254.8 L298.0,254.8 L298.5,254.8 L299.0,254.9 L299.5,254.9 L300.0,254.9 L300.5,255.0 L300.9,255.0 L301.4,255.1 L301.9,255.1 L302.4,255.1 L302.9,255.2 L303.4,255.2 L303.8,255.2 L304.3,255.3 L304.8,255.3 L305.3,255.4 L305.8,255.4 L306.3,255.4 L306.7,255.5 L307.2,255.5 L307.7,255.5 L308.2,255.6 L308.7,255.6 L309.1,255.7 L309.6,255.7 L310.1,255.7 L310.6,255.8 L311.1,255.8 L311.5,255.8 L312.0,255.9 L312.5,255.9 L313.0,255.9"/>
<path d="M366.2,344.6 L366.1,346.5 L365.9,348.3 L365.8,350.1 L365.7,351.9 L365.7,353.7 L365.6,355.5 L365.6,357.3 L365.6,359.1 L365.6,360.8 L365.7,362.6 L365.8,364.4 L365.9,366.1 L366.0,367.9 L366.1,369.6 L366.3,371.3 L366.5,373.1 L366.7,374.8 L366.9,376.5 L367.1,378.2 L367.4,379.9 L367.7,381.6 L368.0,383.3 L368.3,385.0 L368.6,386.7 L369.0,388.4 L369.3,390.1 L369.7,391.7 L370.1,393.4 L370.5,395.1 L370.9,396.7 L371.4,398.4 L371.8,400.0 L372.3,401.7 L372.8,403.3 L373.3,405.0 L373.8,406.6 L374.3,408.2 L374.8,409.9 L375.4,411.5 L375.9,413.1 L376.5,414.7 L377.1,416.4 L377.6,418.0 L378.2,419.6 L378.8,421.2 L379.4,422.8 L380.1,424.4 L380.7,426.0 L381.3,427.6 L381.9,429.2 L382.6,430.8 L383.2,432.4 L383.9,434.0 L384.6,435.6 L385.2,437.2 L385.9,438.8 L386.6,440.4 L387.2,442.0 L387.9,443.5 L388.6,445.1 L389.3,446.7 L390.0,448.3 L390.7,449.9 L391.3,451.5 L392.0,453.1 L392.7,454.6 L393.4,456.2 L394.1,457.8 L394.8,459.4 L395.5,461.0 L396.2,462.6 L396.8,464.2 L397.5,465.8 L398.2,467.4 L398.9,468.9 L399.5,470.5 L400.2,472.1 L400.9,473.7 L401.5,475.3 L402.2,476.9 L402.8,478.5 L403.4,480.1 L404.1,481.7 L404.7,483.3 L405.3,485.0 L405.9,486.6 L406.6,488.2 L407.2,489.8 L407.8,491.4 L408.3,493.0 L408.9,494.6 L409.5,496.3 L410.1,497.9 L410.6,499.5 L411.2,501.1 L411.7,502.8 L412.3,504.4 L412.8,506.0 L413.3,507.7 L413.9,509.3 L414.4,510.9 L414.9,512.6 L415.4,514.2 L415.8,515.9 L416.3,517.5 L416.8,519.2 L417.2,520.8 L417.7,522.5 L418.1,524.1 L418.6,525.8 L419.0,527.5 L419.4,529.1 L419.8,530.8 L420.2,532.5 L420.6,534.1 L420.9,535.8 L421.3,537.5 L421.7,539.2 L422.0,540.8 L422.3,542.5 L422.6,544.2 L423.0,545.9 L423.3,547.6 L423.5,549.3 L423.8,551.0 L424.1,552.7 L424.3,554.4 L424.6,556.1 L424.8,557.8 L425.0,559.5 L425.2,561.2 L425.4,562.9 L425.6,564.6 L425.8,566.4 L425.9,568.1 L426.1,569.8 L426.2,571.5 L426.3,573.3 L426.4,575.0 L426.5,576.7 L426.6,578.5 L426.7,580.2 L426.7,582.0 L426.8,583.7 L426.8,585.5 L426.8,587.2 L426.8,589.0 L426.8,590.7 L426.7,592.5 L426.7,594.3 L426.6,596.0 L426.5,597.8 L426.4,599.6 L426.3,601.4 L426.2,603.1 L426.1,604.9 L425.9,606.7 L425.8,608.5 L425.6,610.3"/>
<path d="M1260.7,610.2 L1260.7,608.1 L1260.7,606.1 L1260.6,604.1 L1260.6,602.1 L1260.5,600.1 L1260.4,598.0 L1260.2,596.0 L1260.1,594.0 L1259.9,592.0 L1259.7,590.0 L1259.5,588.0 L1259.3,586.0 L1259.0,584.0 L1258.7,582.0 L1258.4,580.0 L1258.1,578.0 L1257.8,576.1 L1257.4,574.1 L1257.0,572.1 L1256.6,570.2 L1256.2,568.2 L1255.8,566.3 L1255.3,564.3 L1254.9,562.4 L1254.4,560.4 L1253.8,558.5 L1253.3,556.6 L1252.7,554.7 L1252.2,552.7 L1251.6,550.8 L1251.0,548.9 L1250.3,547.1 L1249.7,545.2 L1249.0,543.3 L1248.3,541.4 L1247.6,539.6 L1246.9,537.7 L1246.1,535.9 L1245.3,534.0 L1244.5,532.2 L1243.7,530.4 L1242.9,528.6 L1242.1,526.8 L1241.2,525.0 L1240.3,523.2 L1239.4,521.5 L1238.5,519.7 L1237.6,517.9 L1236.6,516.2 L1235.7,514.5 L1234.7,512.7 L1233.7,511.0 L1232.7,509.3 L1231.6,507.6 L1230.6,506.0 L1229.5,504.3 L1228.4,502.6 L1227.3,501.0 L1226.1,499.4 L1225.0,497.8 L1223.8,496.2 L1222.7,494.6 L1221.5,493.0 L1220.2,491.4 L1219.0,489.9 L1217.8,488.3 L1216.5,486.8 L1215.2,485.3 L1213.9,483.8 L1212.6,482.3 L1211.3,480.8 L1209.9,479.3 L1208.6,477.9 L1207.2,476.5 L1205.8,475.1 L1204.4,473.6 L1203.0,472.3 L1201.5,470.9 L1200.1,469.5 L1198.6,468.2 L1197.1,466.9 L1195.6,465.6 L1194.1,464.3 L1192.5,463.0 L1191.0,461.7 L1189.4,460.5 L1187.8,459.3 L1186.2,458.1 L1184.6,456.9 L1183.0,455.7 L1181.4,454.5 L1179.8,453.3 L1178.1,452.1 L1176.5,451.0 L1174.9,449.8 L1173.2,448.7 L1171.6,447.5 L1170.0,446.4 L1168.3,445.2 L1166.7,444.0 L1165.1,442.9 L1163.5,441.7 L1161.9,440.5 L1160.3,439.3 L1158.7,438.1 L1157.1,436.9 L1155.6,435.7 L1154.0,434.4 L1152.5,433.2 L1151.0,431.9 L1149.5,430.6 L1148.1,429.3 L1146.7,427.9 L1145.3,426.5 L1143.9,425.2 L1142.5,423.7 L1141.2,422.3 L1139.9,420.8 L1138.6,419.3 L1137.4,417.8 L1136.2,416.2 L1135.0,414.7 L1133.9,413.1 L1132.8,411.4 L1131.7,409.8 L1130.6,408.1 L1129.6,406.4 L1128.6,404.7 L1127.7,402.9 L1126.8,401.2 L1125.9,399.4 L1125.0,397.6 L1124.2,395.8 L1123.4,393.9 L1122.6,392.1 L1121.9,390.2 L1121.2,388.3 L1120.5,386.4 L1119.9,384.5 L1119.2,382.5 L1118.6,380.6 L1118.1,378.6 L1117.6,376.7 L1117.1,374.7 L1116.6,372.7 L1116.1,370.7 L1115.7,368.7 L1115.3,366.7 L1115.0,364.8 L1114.6,362.8 L1114.3,360.8 L1114.0,358.8 L1113.7,356.8 L1113.5,354.8 L1113.3,352.8 L1113.1,350.8 L1112.9,348.9 L1112.8,346.9 L1112.6,344.9"/>
</g>
<g filter="url(#by)" fill="none" stroke="#f8e7a6" stroke-width="21" stroke-linecap="round">
<path d="M1392.5,233.6 L1388.6,231.1 L1384.7,228.7 L1380.7,226.4 L1376.7,224.1 L1372.7,221.9 L1368.7,219.7 L1364.7,217.6 L1360.6,215.6 L1356.5,213.6 L1352.4,211.6 L1348.3,209.7 L1344.2,207.8 L1340.1,206.0 L1335.9,204.3 L1331.7,202.6 L1327.6,200.9 L1323.4,199.3 L1319.2,197.7 L1314.9,196.2 L1310.7,194.7 L1306.4,193.2 L1302.2,191.8 L1297.9,190.5 L1293.6,189.1 L1289.3,187.9 L1285.0,186.6 L1280.7,185.4 L1276.4,184.2 L1272.1,183.1 L1267.7,182.0 L1263.4,180.9 L1259.0,179.9 L1254.6,178.9 L1250.3,178.0 L1245.9,177.0 L1241.5,176.1 L1237.1,175.2 L1232.7,174.4 L1228.3,173.6 L1223.9,172.8 L1219.5,172.1 L1215.0,171.3 L1210.6,170.6 L1206.2,170.0 L1201.7,169.3 L1197.3,168.7 L1192.8,168.1 L1188.3,167.6 L1183.9,167.1 L1179.4,166.5 L1174.9,166.1 L1170.4,165.6 L1166.0,165.2 L1161.5,164.7 L1157.0,164.3 L1152.5,164.0 L1148.0,163.6 L1143.5,163.3 L1138.9,163.0 L1134.4,162.7 L1129.9,162.4 L1125.4,162.2 L1120.9,162.0 L1116.3,161.8 L1111.8,161.6 L1107.3,161.4 L1102.8,161.2 L1098.2,161.1 L1093.7,161.0 L1089.1,160.8 L1084.6,160.7 L1080.1,160.7 L1075.5,160.6 L1071.0,160.5 L1066.4,160.5 L1061.9,160.5 L1057.3,160.5 L1052.8,160.5 L1048.2,160.5 L1043.7,160.5 L1039.1,160.5 L1034.6,160.5 L1030.0,160.6 L1025.5,160.6 L1020.9,160.7 L1016.4,160.8 L1011.8,160.9 L1007.3,161.0 L1002.7,161.1 L998.2,161.2 L993.7,161.4 L989.1,161.6 L984.6,161.7 L980.0,161.9 L975.5,162.1 L971.0,162.4 L966.5,162.6 L961.9,162.9 L957.4,163.1 L952.9,163.4 L948.4,163.8 L943.9,164.1 L939.4,164.5 L934.9,164.8 L930.4,165.2 L925.9,165.7 L921.4,166.1 L916.9,166.6 L912.4,167.1 L907.9,167.6 L903.5,168.1 L899.0,168.7 L894.6,169.3 L890.1,169.9 L885.7,170.6 L881.2,171.3 L876.8,172.0 L872.4,172.7 L868.0,173.5 L863.5,174.2 L859.1,175.1 L854.7,175.9 L850.4,176.8 L846.0,177.7 L841.6,178.7 L837.2,179.7 L832.9,180.7 L828.5,181.7 L824.2,182.8 L819.9,183.9 L815.6,185.1 L811.2,186.3 L806.9,187.5 L802.6,188.8 L798.4,190.1 L794.1,191.4 L789.8,192.8 L785.6,194.2 L781.3,195.7 L777.1,197.2 L772.9,198.7 L768.7,200.3 L764.5,201.9 L760.3,203.6 L756.1,205.3 L752.0,207.1 L747.8,208.9 L743.7,210.7 L739.6,212.6 L735.5,214.5 L731.4,216.5 L727.3,218.6 L723.2,220.6 L719.1,222.8 L715.1,224.9 L711.1,227.2 L707.0,229.4 L703.0,231.7 L699.1,234.1"/>
<path d="M189.0,344.6 L189.2,347.1 L189.5,349.6 L189.8,352.1 L190.2,354.6 L190.6,357.0 L191.1,359.4 L191.6,361.8 L192.2,364.2 L192.8,366.5 L193.5,368.8 L194.2,371.1 L195.0,373.4 L195.8,375.6 L196.7,377.8 L197.6,380.0 L198.6,382.1 L199.6,384.3 L200.7,386.4 L201.8,388.4 L202.9,390.5 L204.1,392.5 L205.3,394.5 L206.5,396.5 L207.8,398.4 L209.2,400.3 L210.5,402.2 L212.0,404.1 L213.4,405.9 L214.9,407.7 L216.4,409.5 L217.9,411.2 L219.5,413.0 L221.1,414.7 L222.8,416.3 L224.4,418.0 L226.1,419.6 L227.8,421.1 L229.6,422.7 L231.4,424.2 L233.2,425.7 L235.0,427.2 L236.9,428.6 L238.8,430.0 L240.7,431.4 L242.6,432.7 L244.5,434.1 L246.5,435.3 L248.5,436.6 L250.5,437.8 L252.5,439.0 L254.6,440.2 L256.6,441.3 L258.7,442.4 L260.8,443.5 L262.9,444.6 L265.0,445.6 L267.2,446.6 L269.3,447.6 L271.5,448.6 L273.6,449.6 L275.8,450.5 L278.0,451.4 L280.2,452.4 L282.4,453.3 L284.5,454.2 L286.7,455.1 L288.9,456.0 L291.1,456.9 L293.3,457.8 L295.5,458.7 L297.7,459.6 L299.9,460.5 L302.1,461.4 L304.3,462.3 L306.5,463.2 L308.7,464.2 L310.9,465.1 L313.0,466.1 L315.2,467.1 L317.4,468.1 L319.5,469.1 L321.6,470.1 L323.8,471.2 L325.9,472.2 L328.0,473.3 L330.1,474.4 L332.2,475.5 L334.3,476.6 L336.3,477.8 L338.4,479.0 L340.4,480.2 L342.5,481.4 L344.5,482.6 L346.5,483.8 L348.5,485.1 L350.5,486.4 L352.4,487.7 L354.4,489.1 L356.3,490.4 L358.3,491.8 L360.2,493.2 L362.0,494.7 L363.9,496.1 L365.8,497.6 L367.6,499.1 L369.4,500.7 L371.2,502.2 L372.9,503.8 L374.7,505.4 L376.4,507.0 L378.1,508.6 L379.8,510.3 L381.4,512.0 L383.1,513.7 L384.7,515.4 L386.2,517.2 L387.8,518.9 L389.3,520.7 L390.8,522.6 L392.2,524.4 L393.7,526.3 L395.1,528.1 L396.4,530.0 L397.8,532.0 L399.1,533.9 L400.3,535.9 L401.6,537.9 L402.8,539.9 L404.0,541.9 L405.1,544.0 L406.2,546.1 L407.2,548.2 L408.3,550.3 L409.2,552.4 L410.2,554.6 L411.1,556.8 L412.0,559.0 L412.8,561.2 L413.6,563.4 L414.4,565.6 L415.1,567.9 L415.8,570.2 L416.4,572.5 L417.0,574.8 L417.6,577.1 L418.2,579.4 L418.7,581.8 L419.2,584.1 L419.6,586.4 L420.0,588.8 L420.4,591.2 L420.7,593.5 L421.1,595.9 L421.3,598.3 L421.6,600.6 L421.8,603.0 L422.0,605.4 L422.2,607.8 L422.3,610.1"/>
<path d="M1267.9,610.3 L1267.9,608.2 L1267.9,606.2 L1267.9,604.1 L1267.9,602.1 L1268.0,600.0 L1268.1,598.0 L1268.2,596.0 L1268.3,593.9 L1268.5,591.9 L1268.7,589.9 L1268.8,587.9 L1269.1,585.9 L1269.3,583.9 L1269.6,581.9 L1269.8,579.9 L1270.1,577.9 L1270.5,575.9 L1270.8,573.9 L1271.2,571.9 L1271.6,570.0 L1272.0,568.0 L1272.4,566.0 L1272.9,564.1 L1273.3,562.2 L1273.8,560.2 L1274.3,558.3 L1274.9,556.4 L1275.4,554.5 L1276.0,552.6 L1276.6,550.7 L1277.2,548.8 L1277.8,546.9 L1278.5,545.0 L1279.1,543.1 L1279.8,541.3 L1280.5,539.4 L1281.3,537.6 L1282.0,535.7 L1282.8,533.9 L1283.6,532.1 L1284.4,530.3 L1285.2,528.5 L1286.1,526.7 L1286.9,524.9 L1287.8,523.2 L1288.7,521.4 L1289.6,519.7 L1290.6,517.9 L1291.5,516.2 L1292.5,514.5 L1293.5,512.8 L1294.5,511.1 L1295.5,509.4 L1296.6,507.7 L1297.7,506.0 L1298.7,504.4 L1299.8,502.7 L1301.0,501.1 L1302.1,499.5 L1303.3,497.9 L1304.4,496.3 L1305.6,494.7 L1306.8,493.1 L1308.0,491.6 L1309.3,490.0 L1310.5,488.5 L1311.8,487.0 L1313.1,485.5 L1314.4,484.0 L1315.7,482.5 L1317.1,481.0 L1318.4,479.6 L1319.8,478.2 L1321.2,476.7 L1322.6,475.3 L1324.0,473.9 L1325.5,472.5 L1326.9,471.2 L1328.4,469.8 L1329.9,468.5 L1331.4,467.2 L1332.9,465.9 L1334.5,464.6 L1336.0,463.3 L1337.6,462.0 L1339.1,460.8 L1340.7,459.6 L1342.3,458.3 L1344.0,457.1 L1345.6,455.9 L1347.2,454.7 L1348.9,453.6 L1350.5,452.4 L1352.1,451.2 L1353.8,450.0 L1355.4,448.9 L1357.1,447.7 L1358.7,446.5 L1360.4,445.4 L1362.0,444.2 L1363.6,443.0 L1365.2,441.8 L1366.8,440.6 L1368.4,439.4 L1370.0,438.2 L1371.6,437.0 L1373.1,435.8 L1374.7,434.5 L1376.2,433.3 L1377.7,432.0 L1379.2,430.7 L1380.6,429.4 L1382.1,428.0 L1383.5,426.7 L1384.8,425.3 L1386.2,423.9 L1387.5,422.5 L1388.8,421.0 L1390.1,419.5 L1391.3,418.0 L1392.5,416.5 L1393.6,414.9 L1394.7,413.3 L1395.8,411.7 L1396.9,410.0 L1397.9,408.3 L1398.9,406.6 L1399.9,404.9 L1400.8,403.2 L1401.7,401.4 L1402.5,399.6 L1403.4,397.8 L1404.1,395.9 L1404.9,394.1 L1405.6,392.2 L1406.3,390.3 L1407.0,388.4 L1407.7,386.5 L1408.3,384.6 L1408.9,382.6 L1409.4,380.6 L1409.9,378.7 L1410.5,376.7 L1410.9,374.7 L1411.4,372.7 L1411.8,370.7 L1412.3,368.7 L1412.7,366.7 L1413.0,364.7 L1413.4,362.7 L1413.7,360.7 L1414.1,358.7 L1414.4,356.7 L1414.7,354.7 L1414.9,352.7 L1415.2,350.8 L1415.4,348.8 L1415.7,346.8 L1415.9,344.9"/>
<circle cx="181" cy="290" r="62.5" stroke-width="15"/>
<circle cx="364.2" cy="290" r="62.5" stroke-width="15"/>
<circle cx="673" cy="290" r="62.5" stroke-width="15"/>
<circle cx="1418.5" cy="290" r="62.5" stroke-width="15"/>
<circle cx="426.6" cy="663.2" r="62.5" stroke-width="15"/>
<circle cx="1264" cy="663.2" r="62.5" stroke-width="15"/>
</g>
<clipPath id="ygl"><rect x="690" y="140" width="760" height="110"/><rect x="150" y="340" width="300" height="290"/><rect x="1240" y="340" width="200" height="290"/></clipPath>
<g clip-path="url(#ygl)">
<g fill="none" stroke="#dcdde1" stroke-width="1.35" stroke-dasharray="2 2.2">
<rect x="-40" y="103.5" width="899.5" height="747" rx="26"/>
<rect x="922.8" y="103.5" width="691.2" height="747" rx="26"/>
<rect x="57.5" y="166.8" width="430" height="247" rx="22"/>
<rect x="550.5" y="166.8" width="246" height="247" rx="22"/>
<rect x="986.5" y="166.8" width="246" height="247" rx="22"/>
<rect x="1296" y="166.8" width="246" height="247" rx="22"/>
<rect x="304" y="540.5" width="246" height="247" rx="22"/>
<rect x="1141" y="540.5" width="246" height="247" rx="22"/>
</g>
</g>
<g fill="none" stroke="#dad9dc" stroke-width="5.8" stroke-dasharray="21.5 3">
<path d="M1392.5,233.6 L1388.6,231.1 L1384.7,228.7 L1380.7,226.4 L1376.7,224.1 L1372.7,221.9 L1368.7,219.7 L1364.7,217.6 L1360.6,215.6 L1356.5,213.6 L1352.4,211.6 L1348.3,209.7 L1344.2,207.8 L1340.1,206.0 L1335.9,204.3 L1331.7,202.6 L1327.6,200.9 L1323.4,199.3 L1319.2,197.7 L1314.9,196.2 L1310.7,194.7 L1306.4,193.2 L1302.2,191.8 L1297.9,190.5 L1293.6,189.1 L1289.3,187.9 L1285.0,186.6 L1280.7,185.4 L1276.4,184.2 L1272.1,183.1 L1267.7,182.0 L1263.4,180.9 L1259.0,179.9 L1254.6,178.9 L1250.3,178.0 L1245.9,177.0 L1241.5,176.1 L1237.1,175.2 L1232.7,174.4 L1228.3,173.6 L1223.9,172.8 L1219.5,172.1 L1215.0,171.3 L1210.6,170.6 L1206.2,170.0 L1201.7,169.3 L1197.3,168.7 L1192.8,168.1 L1188.3,167.6 L1183.9,167.1 L1179.4,166.5 L1174.9,166.1 L1170.4,165.6 L1166.0,165.2 L1161.5,164.7 L1157.0,164.3 L1152.5,164.0 L1148.0,163.6 L1143.5,163.3 L1138.9,163.0 L1134.4,162.7 L1129.9,162.4 L1125.4,162.2 L1120.9,162.0 L1116.3,161.8 L1111.8,161.6 L1107.3,161.4 L1102.8,161.2 L1098.2,161.1 L1093.7,161.0 L1089.1,160.8 L1084.6,160.7 L1080.1,160.7 L1075.5,160.6 L1071.0,160.5 L1066.4,160.5 L1061.9,160.5 L1057.3,160.5 L1052.8,160.5 L1048.2,160.5 L1043.7,160.5 L1039.1,160.5 L1034.6,160.5 L1030.0,160.6 L1025.5,160.6 L1020.9,160.7 L1016.4,160.8 L1011.8,160.9 L1007.3,161.0 L1002.7,161.1 L998.2,161.2 L993.7,161.4 L989.1,161.6 L984.6,161.7 L980.0,161.9 L975.5,162.1 L971.0,162.4 L966.5,162.6 L961.9,162.9 L957.4,163.1 L952.9,163.4 L948.4,163.8 L943.9,164.1 L939.4,164.5 L934.9,164.8 L930.4,165.2 L925.9,165.7 L921.4,166.1 L916.9,166.6 L912.4,167.1 L907.9,167.6 L903.5,168.1 L899.0,168.7 L894.6,169.3 L890.1,169.9 L885.7,170.6 L881.2,171.3 L876.8,172.0 L872.4,172.7 L868.0,173.5 L863.5,174.2 L859.1,175.1 L854.7,175.9 L850.4,176.8 L846.0,177.7 L841.6,178.7 L837.2,179.7 L832.9,180.7 L828.5,181.7 L824.2,182.8 L819.9,183.9 L815.6,185.1 L811.2,186.3 L806.9,187.5 L802.6,188.8 L798.4,190.1 L794.1,191.4 L789.8,192.8 L785.6,194.2 L781.3,195.7 L777.1,197.2 L772.9,198.7 L768.7,200.3 L764.5,201.9 L760.3,203.6 L756.1,205.3 L752.0,207.1 L747.8,208.9 L743.7,210.7 L739.6,212.6 L735.5,214.5 L731.4,216.5 L727.3,218.6 L723.2,220.6 L719.1,222.8 L715.1,224.9 L711.1,227.2 L707.0,229.4 L703.0,231.7 L699.1,234.1"/>
<path d="M189.0,344.6 L189.2,347.1 L189.5,349.6 L189.8,352.1 L190.2,354.6 L190.6,357.0 L191.1,359.4 L191.6,361.8 L192.2,364.2 L192.8,366.5 L193.5,368.8 L194.2,371.1 L195.0,373.4 L195.8,375.6 L196.7,377.8 L197.6,380.0 L198.6,382.1 L199.6,384.3 L200.7,386.4 L201.8,388.4 L202.9,390.5 L204.1,392.5 L205.3,394.5 L206.5,396.5 L207.8,398.4 L209.2,400.3 L210.5,402.2 L212.0,404.1 L213.4,405.9 L214.9,407.7 L216.4,409.5 L217.9,411.2 L219.5,413.0 L221.1,414.7 L222.8,416.3 L224.4,418.0 L226.1,419.6 L227.8,421.1 L229.6,422.7 L231.4,424.2 L233.2,425.7 L235.0,427.2 L236.9,428.6 L238.8,430.0 L240.7,431.4 L242.6,432.7 L244.5,434.1 L246.5,435.3 L248.5,436.6 L250.5,437.8 L252.5,439.0 L254.6,440.2 L256.6,441.3 L258.7,442.4 L260.8,443.5 L262.9,444.6 L265.0,445.6 L267.2,446.6 L269.3,447.6 L271.5,448.6 L273.6,449.6 L275.8,450.5 L278.0,451.4 L280.2,452.4 L282.4,453.3 L284.5,454.2 L286.7,455.1 L288.9,456.0 L291.1,456.9 L293.3,457.8 L295.5,458.7 L297.7,459.6 L299.9,460.5 L302.1,461.4 L304.3,462.3 L306.5,463.2 L308.7,464.2 L310.9,465.1 L313.0,466.1 L315.2,467.1 L317.4,468.1 L319.5,469.1 L321.6,470.1 L323.8,471.2 L325.9,472.2 L328.0,473.3 L330.1,474.4 L332.2,475.5 L334.3,476.6 L336.3,477.8 L338.4,479.0 L340.4,480.2 L342.5,481.4 L344.5,482.6 L346.5,483.8 L348.5,485.1 L350.5,486.4 L352.4,487.7 L354.4,489.1 L356.3,490.4 L358.3,491.8 L360.2,493.2 L362.0,494.7 L363.9,496.1 L365.8,497.6 L367.6,499.1 L369.4,500.7 L371.2,502.2 L372.9,503.8 L374.7,505.4 L376.4,507.0 L378.1,508.6 L379.8,510.3 L381.4,512.0 L383.1,513.7 L384.7,515.4 L386.2,517.2 L387.8,518.9 L389.3,520.7 L390.8,522.6 L392.2,524.4 L393.7,526.3 L395.1,528.1 L396.4,530.0 L397.8,532.0 L399.1,533.9 L400.3,535.9 L401.6,537.9 L402.8,539.9 L404.0,541.9 L405.1,544.0 L406.2,546.1 L407.2,548.2 L408.3,550.3 L409.2,552.4 L410.2,554.6 L411.1,556.8 L412.0,559.0 L412.8,561.2 L413.6,563.4 L414.4,565.6 L415.1,567.9 L415.8,570.2 L416.4,572.5 L417.0,574.8 L417.6,577.1 L418.2,579.4 L418.7,581.8 L419.2,584.1 L419.6,586.4 L420.0,588.8 L420.4,591.2 L420.7,593.5 L421.1,595.9 L421.3,598.3 L421.6,600.6 L421.8,603.0 L422.0,605.4 L422.2,607.8 L422.3,610.1"/>
<path d="M1267.9,610.3 L1267.9,608.2 L1267.9,606.2 L1267.9,604.1 L1267.9,602.1 L1268.0,600.0 L1268.1,598.0 L1268.2,596.0 L1268.3,593.9 L1268.5,591.9 L1268.7,589.9 L1268.8,587.9 L1269.1,585.9 L1269.3,583.9 L1269.6,581.9 L1269.8,579.9 L1270.1,577.9 L1270.5,575.9 L1270.8,573.9 L1271.2,571.9 L1271.6,570.0 L1272.0,568.0 L1272.4,566.0 L1272.9,564.1 L1273.3,562.2 L1273.8,560.2 L1274.3,558.3 L1274.9,556.4 L1275.4,554.5 L1276.0,552.6 L1276.6,550.7 L1277.2,548.8 L1277.8,546.9 L1278.5,545.0 L1279.1,543.1 L1279.8,541.3 L1280.5,539.4 L1281.3,537.6 L1282.0,535.7 L1282.8,533.9 L1283.6,532.1 L1284.4,530.3 L1285.2,528.5 L1286.1,526.7 L1286.9,524.9 L1287.8,523.2 L1288.7,521.4 L1289.6,519.7 L1290.6,517.9 L1291.5,516.2 L1292.5,514.5 L1293.5,512.8 L1294.5,511.1 L1295.5,509.4 L1296.6,507.7 L1297.7,506.0 L1298.7,504.4 L1299.8,502.7 L1301.0,501.1 L1302.1,499.5 L1303.3,497.9 L1304.4,496.3 L1305.6,494.7 L1306.8,493.1 L1308.0,491.6 L1309.3,490.0 L1310.5,488.5 L1311.8,487.0 L1313.1,485.5 L1314.4,484.0 L1315.7,482.5 L1317.1,481.0 L1318.4,479.6 L1319.8,478.2 L1321.2,476.7 L1322.6,475.3 L1324.0,473.9 L1325.5,472.5 L1326.9,471.2 L1328.4,469.8 L1329.9,468.5 L1331.4,467.2 L1332.9,465.9 L1334.5,464.6 L1336.0,463.3 L1337.6,462.0 L1339.1,460.8 L1340.7,459.6 L1342.3,458.3 L1344.0,457.1 L1345.6,455.9 L1347.2,454.7 L1348.9,453.6 L1350.5,452.4 L1352.1,451.2 L1353.8,450.0 L1355.4,448.9 L1357.1,447.7 L1358.7,446.5 L1360.4,445.4 L1362.0,444.2 L1363.6,443.0 L1365.2,441.8 L1366.8,440.6 L1368.4,439.4 L1370.0,438.2 L1371.6,437.0 L1373.1,435.8 L1374.7,434.5 L1376.2,433.3 L1377.7,432.0 L1379.2,430.7 L1380.6,429.4 L1382.1,428.0 L1383.5,426.7 L1384.8,425.3 L1386.2,423.9 L1387.5,422.5 L1388.8,421.0 L1390.1,419.5 L1391.3,418.0 L1392.5,416.5 L1393.6,414.9 L1394.7,413.3 L1395.8,411.7 L1396.9,410.0 L1397.9,408.3 L1398.9,406.6 L1399.9,404.9 L1400.8,403.2 L1401.7,401.4 L1402.5,399.6 L1403.4,397.8 L1404.1,395.9 L1404.9,394.1 L1405.6,392.2 L1406.3,390.3 L1407.0,388.4 L1407.7,386.5 L1408.3,384.6 L1408.9,382.6 L1409.4,380.6 L1409.9,378.7 L1410.5,376.7 L1410.9,374.7 L1411.4,372.7 L1411.8,370.7 L1412.3,368.7 L1412.7,366.7 L1413.0,364.7 L1413.4,362.7 L1413.7,360.7 L1414.1,358.7 L1414.4,356.7 L1414.7,354.7 L1414.9,352.7 L1415.2,350.8 L1415.4,348.8 L1415.7,346.8 L1415.9,344.9"/>
</g>
<path transform="translate(1352.0,187.0) rotate(198.8)" d="M14,0 L-8.6,-11 L0,0 L-8.6,11 Z" fill="#49494b"/>
<path transform="translate(863.4,79.7) rotate(183.5)" d="M14,0 L-8.6,-11 L0,0 L-8.6,11 Z" fill="#49494b"/>
<path transform="translate(612.0,87.6) rotate(173.5)" d="M14,0 L-8.6,-11 L0,0 L-8.6,11 Z" fill="#49494b"/>
<path transform="translate(363.5,134.1) rotate(154.1)" d="M14,0 L-8.6,-11 L0,0 L-8.6,11 Z" fill="#49494b"/>
<path transform="translate(825.6,163.1) rotate(178.0)" d="M14,0 L-8.6,-11 L0,0 L-8.6,11 Z" fill="#49494b"/>
<path transform="translate(571.5,172.7) rotate(163.0)" d="M14,0 L-8.6,-11 L0,0 L-8.6,11 Z" fill="#49494b"/>
<path transform="translate(431.9,201.9) rotate(180.0)" d="M14,0 L-8.6,-11 L0,0 L-8.6,11 Z" fill="#49494b"/>
<path transform="translate(523.1,231.9) rotate(180.0)" d="M14,0 L-8.6,-11 L0,0 L-8.6,11 Z" fill="#49494b"/>
<path transform="translate(269.8,253.2) rotate(0.0)" d="M14,0 L-8.6,-11 L0,0 L-8.6,11 Z" fill="#49494b"/>
<path transform="translate(401.5,473.5) rotate(79.9)" d="M14,0 L-8.6,-11 L0,0 L-8.6,11 Z" fill="#49494b"/>
<path transform="translate(1198.0,473.1) rotate(-116.6)" d="M14,0 L-8.6,-11 L0,0 L-8.6,11 Z" fill="#49494b"/>
<path transform="translate(1216.9,172.0) rotate(194.7)" d="M14,0 L-8.6,-11 L0,0 L-8.6,11 Z" fill="#49494b"/>
<path transform="translate(966.2,163.1) rotate(180.9)" d="M14,0 L-8.6,-11 L0,0 L-8.6,11 Z" fill="#49494b"/>
<path transform="translate(314.0,466.0) rotate(57.5)" d="M14,0 L-8.6,-11 L0,0 L-8.6,11 Z" fill="#49494b"/>
<path transform="translate(1330.3,472.1) rotate(-64.0)" d="M14,0 L-8.6,-11 L0,0 L-8.6,11 Z" fill="#49494b"/>
<g transform="translate(181,290)"><circle r="59.4" fill="#fff" stroke="#d9d9dc" stroke-width="6.6"/><g fill="none" stroke="#111" stroke-width="2.7" stroke-linejoin="round"><path d="M-30.3,-3 L-21.2,-26 Q-20.7,-27.2 -19.2,-27.2 L20.4,-27.2 Q21.9,-27.2 22.4,-26 L31.3,-3"/><rect x="-30.3" y="-3" width="61.6" height="30.6" rx="2.5"/></g><g fill="#111"><rect x="-24.9" y="5.0" width="4.2" height="3.1" rx="0.9"/><rect x="-17.2" y="5.0" width="4.2" height="3.1" rx="0.9"/><rect x="-9.4" y="5.0" width="4.2" height="3.1" rx="0.9"/><rect x="-1.7" y="5.0" width="4.2" height="3.1" rx="0.9"/><rect x="6.0" y="5.0" width="4.2" height="3.1" rx="0.9"/><rect x="13.8" y="5.0" width="4.2" height="3.1" rx="0.9"/><rect x="21.5" y="5.0" width="4.2" height="3.1" rx="0.9"/><rect x="-24.9" y="12.4" width="4.2" height="3.1" rx="0.9"/><rect x="-17.2" y="12.4" width="4.2" height="3.1" rx="0.9"/><rect x="-9.4" y="12.4" width="4.2" height="3.1" rx="0.9"/><rect x="-1.7" y="12.4" width="4.2" height="3.1" rx="0.9"/><rect x="6.0" y="12.4" width="4.2" height="3.1" rx="0.9"/><rect x="13.8" y="12.4" width="4.2" height="3.1" rx="0.9"/><rect x="21.5" y="12.4" width="4.2" height="3.1" rx="0.9"/><rect x="-24.9" y="19.8" width="4.2" height="3.1" rx="0.9"/><rect x="-17.2" y="19.8" width="4.2" height="3.1" rx="0.9"/><rect x="-9.4" y="19.8" width="4.2" height="3.1" rx="0.9"/><rect x="-1.7" y="19.8" width="4.2" height="3.1" rx="0.9"/><rect x="6.0" y="19.8" width="4.2" height="3.1" rx="0.9"/><rect x="13.8" y="19.8" width="4.2" height="3.1" rx="0.9"/><rect x="21.5" y="19.8" width="4.2" height="3.1" rx="0.9"/></g><rect x="-14.5" y="16.5" width="50" height="19" rx="3" fill="#fff"/><rect x="-13" y="18" width="47" height="16" rx="2.2" fill="#1c1c1c"/><text x="11.2" y="31.3" text-anchor="middle" font-family='"Liberation Sans", sans-serif' font-weight="700" font-size="14.3" fill="#fff" textLength="39.5" lengthAdjust="spacingAndGlyphs">vEOS</text><rect x="41.2" y="-63.3" width="22" height="23" rx="3" fill="#fce9e8" opacity="0.9"/><rect x="45" y="-59.8" width="14.6" height="15.6" rx="2.6" fill="#c5281d"/><rect x="50.1" y="-56.6" width="4.6" height="9.2" rx="0.8" fill="#fff"/></g>
<g transform="translate(364.2,290)"><circle r="59.4" fill="#fff" stroke="#d9d9dc" stroke-width="6.6"/><g fill="none" stroke="#111" stroke-width="2.7" stroke-linejoin="round"><path d="M-30.3,-3 L-21.2,-26 Q-20.7,-27.2 -19.2,-27.2 L20.4,-27.2 Q21.9,-27.2 22.4,-26 L31.3,-3"/><rect x="-30.3" y="-3" width="61.6" height="30.6" rx="2.5"/></g><g fill="#111"><rect x="-24.9" y="5.0" width="4.2" height="3.1" rx="0.9"/><rect x="-17.2" y="5.0" width="4.2" height="3.1" rx="0.9"/><rect x="-9.4" y="5.0" width="4.2" height="3.1" rx="0.9"/><rect x="-1.7" y="5.0" width="4.2" height="3.1" rx="0.9"/><rect x="6.0" y="5.0" width="4.2" height="3.1" rx="0.9"/><rect x="13.8" y="5.0" width="4.2" height="3.1" rx="0.9"/><rect x="21.5" y="5.0" width="4.2" height="3.1" rx="0.9"/><rect x="-24.9" y="12.4" width="4.2" height="3.1" rx="0.9"/><rect x="-17.2" y="12.4" width="4.2" height="3.1" rx="0.9"/><rect x="-9.4" y="12.4" width="4.2" height="3.1" rx="0.9"/><rect x="-1.7" y="12.4" width="4.2" height="3.1" rx="0.9"/><rect x="6.0" y="12.4" width="4.2" height="3.1" rx="0.9"/><rect x="13.8" y="12.4" width="4.2" height="3.1" rx="0.9"/><rect x="21.5" y="12.4" width="4.2" height="3.1" rx="0.9"/><rect x="-24.9" y="19.8" width="4.2" height="3.1" rx="0.9"/><rect x="-17.2" y="19.8" width="4.2" height="3.1" rx="0.9"/><rect x="-9.4" y="19.8" width="4.2" height="3.1" rx="0.9"/><rect x="-1.7" y="19.8" width="4.2" height="3.1" rx="0.9"/><rect x="6.0" y="19.8" width="4.2" height="3.1" rx="0.9"/><rect x="13.8" y="19.8" width="4.2" height="3.1" rx="0.9"/><rect x="21.5" y="19.8" width="4.2" height="3.1" rx="0.9"/></g><rect x="-14.5" y="16.5" width="50" height="19" rx="3" fill="#fff"/><rect x="-13" y="18" width="47" height="16" rx="2.2" fill="#1c1c1c"/><text x="11.2" y="31.3" text-anchor="middle" font-family='"Liberation Sans", sans-serif' font-weight="700" font-size="14.3" fill="#fff" textLength="39.5" lengthAdjust="spacingAndGlyphs">vEOS</text><rect x="41.2" y="-63.3" width="22" height="23" rx="3" fill="#fce9e8" opacity="0.9"/><rect x="45" y="-59.8" width="14.6" height="15.6" rx="2.6" fill="#c5281d"/><rect x="50.1" y="-56.6" width="4.6" height="9.2" rx="0.8" fill="#fff"/></g>
<g transform="translate(673,290)"><circle r="59.4" fill="#fff" stroke="#d9d9dc" stroke-width="6.6"/><g fill="none" stroke="#111" stroke-width="2.7" stroke-linejoin="round"><path d="M-30.3,-3 L-21.2,-26 Q-20.7,-27.2 -19.2,-27.2 L20.4,-27.2 Q21.9,-27.2 22.4,-26 L31.3,-3"/><rect x="-30.3" y="-3" width="61.6" height="30.6" rx="2.5"/></g><g fill="#111"><rect x="-24.9" y="5.0" width="4.2" height="3.1" rx="0.9"/><rect x="-17.2" y="5.0" width="4.2" height="3.1" rx="0.9"/><rect x="-9.4" y="5.0" width="4.2" height="3.1" rx="0.9"/><rect x="-1.7" y="5.0" width="4.2" height="3.1" rx="0.9"/><rect x="6.0" y="5.0" width="4.2" height="3.1" rx="0.9"/><rect x="13.8" y="5.0" width="4.2" height="3.1" rx="0.9"/><rect x="21.5" y="5.0" width="4.2" height="3.1" rx="0.9"/><rect x="-24.9" y="12.4" width="4.2" height="3.1" rx="0.9"/><rect x="-17.2" y="12.4" width="4.2" height="3.1" rx="0.9"/><rect x="-9.4" y="12.4" width="4.2" height="3.1" rx="0.9"/><rect x="-1.7" y="12.4" width="4.2" height="3.1" rx="0.9"/><rect x="6.0" y="12.4" width="4.2" height="3.1" rx="0.9"/><rect x="13.8" y="12.4" width="4.2" height="3.1" rx="0.9"/><rect x="21.5" y="12.4" width="4.2" height="3.1" rx="0.9"/><rect x="-24.9" y="19.8" width="4.2" height="3.1" rx="0.9"/><rect x="-17.2" y="19.8" width="4.2" height="3.1" rx="0.9"/><rect x="-9.4" y="19.8" width="4.2" height="3.1" rx="0.9"/><rect x="-1.7" y="19.8" width="4.2" height="3.1" rx="0.9"/><rect x="6.0" y="19.8" width="4.2" height="3.1" rx="0.9"/><rect x="13.8" y="19.8" width="4.2" height="3.1" rx="0.9"/><rect x="21.5" y="19.8" width="4.2" height="3.1" rx="0.9"/></g><rect x="-14.5" y="16.5" width="50" height="19" rx="3" fill="#fff"/><rect x="-13" y="18" width="47" height="16" rx="2.2" fill="#1c1c1c"/><text x="11.2" y="31.3" text-anchor="middle" font-family='"Liberation Sans", sans-serif' font-weight="700" font-size="14.3" fill="#fff" textLength="39.5" lengthAdjust="spacingAndGlyphs">vEOS</text><rect x="42" y="-63.5" width="23" height="23" rx="2" fill="#fdf5da" opacity="0.9"/><path d="M52.7,-60.2 L60.7,-44 L44.7,-44 Z" fill="#e2b53a" stroke="#e2b53a" stroke-width="1.6" stroke-linejoin="round"/><rect x="51.5" y="-53" width="2.5" height="6.4" rx="1.1" fill="#fff6d8"/></g>
<g transform="translate(1110,290)"><circle r="59.4" fill="#fff" stroke="#d9d9dc" stroke-width="6.6"/><g fill="none" stroke="#111" stroke-width="2.7" stroke-linejoin="round"><path d="M-30.3,-3 L-21.2,-26 Q-20.7,-27.2 -19.2,-27.2 L20.4,-27.2 Q21.9,-27.2 22.4,-26 L31.3,-3"/><rect x="-30.3" y="-3" width="61.6" height="30.6" rx="2.5"/></g><g fill="#111"><rect x="-24.9" y="5.0" width="4.2" height="3.1" rx="0.9"/><rect x="-17.2" y="5.0" width="4.2" height="3.1" rx="0.9"/><rect x="-9.4" y="5.0" width="4.2" height="3.1" rx="0.9"/><rect x="-1.7" y="5.0" width="4.2" height="3.1" rx="0.9"/><rect x="6.0" y="5.0" width="4.2" height="3.1" rx="0.9"/><rect x="13.8" y="5.0" width="4.2" height="3.1" rx="0.9"/><rect x="21.5" y="5.0" width="4.2" height="3.1" rx="0.9"/><rect x="-24.9" y="12.4" width="4.2" height="3.1" rx="0.9"/><rect x="-17.2" y="12.4" width="4.2" height="3.1" rx="0.9"/><rect x="-9.4" y="12.4" width="4.2" height="3.1" rx="0.9"/><rect x="-1.7" y="12.4" width="4.2" height="3.1" rx="0.9"/><rect x="6.0" y="12.4" width="4.2" height="3.1" rx="0.9"/><rect x="13.8" y="12.4" width="4.2" height="3.1" rx="0.9"/><rect x="21.5" y="12.4" width="4.2" height="3.1" rx="0.9"/><rect x="-24.9" y="19.8" width="4.2" height="3.1" rx="0.9"/><rect x="-17.2" y="19.8" width="4.2" height="3.1" rx="0.9"/><rect x="-9.4" y="19.8" width="4.2" height="3.1" rx="0.9"/><rect x="-1.7" y="19.8" width="4.2" height="3.1" rx="0.9"/><rect x="6.0" y="19.8" width="4.2" height="3.1" rx="0.9"/><rect x="13.8" y="19.8" width="4.2" height="3.1" rx="0.9"/><rect x="21.5" y="19.8" width="4.2" height="3.1" rx="0.9"/></g><rect x="-14.5" y="16.5" width="50" height="19" rx="3" fill="#fff"/><rect x="-13" y="18" width="47" height="16" rx="2.2" fill="#1c1c1c"/><text x="11.2" y="31.3" text-anchor="middle" font-family='"Liberation Sans", sans-serif' font-weight="700" font-size="14.3" fill="#fff" textLength="39.5" lengthAdjust="spacingAndGlyphs">vEOS</text><rect x="41.2" y="-63.3" width="22" height="23" rx="3" fill="#fce9e8" opacity="0.9"/><rect x="45" y="-59.8" width="14.6" height="15.6" rx="2.6" fill="#c5281d"/><rect x="50.1" y="-56.6" width="4.6" height="9.2" rx="0.8" fill="#fff"/></g>
<g transform="translate(1418.5,290)"><circle r="59.4" fill="#fff" stroke="#d9d9dc" stroke-width="6.6"/><g fill="none" stroke="#111" stroke-width="2.7" stroke-linejoin="round"><path d="M-30.3,-3 L-21.2,-26 Q-20.7,-27.2 -19.2,-27.2 L20.4,-27.2 Q21.9,-27.2 22.4,-26 L31.3,-3"/><rect x="-30.3" y="-3" width="61.6" height="30.6" rx="2.5"/></g><g fill="#111"><rect x="-24.9" y="5.0" width="4.2" height="3.1" rx="0.9"/><rect x="-17.2" y="5.0" width="4.2" height="3.1" rx="0.9"/><rect x="-9.4" y="5.0" width="4.2" height="3.1" rx="0.9"/><rect x="-1.7" y="5.0" width="4.2" height="3.1" rx="0.9"/><rect x="6.0" y="5.0" width="4.2" height="3.1" rx="0.9"/><rect x="13.8" y="5.0" width="4.2" height="3.1" rx="0.9"/><rect x="21.5" y="5.0" width="4.2" height="3.1" rx="0.9"/><rect x="-24.9" y="12.4" width="4.2" height="3.1" rx="0.9"/><rect x="-17.2" y="12.4" width="4.2" height="3.1" rx="0.9"/><rect x="-9.4" y="12.4" width="4.2" height="3.1" rx="0.9"/><rect x="-1.7" y="12.4" width="4.2" height="3.1" rx="0.9"/><rect x="6.0" y="12.4" width="4.2" height="3.1" rx="0.9"/><rect x="13.8" y="12.4" width="4.2" height="3.1" rx="0.9"/><rect x="21.5" y="12.4" width="4.2" height="3.1" rx="0.9"/><rect x="-24.9" y="19.8" width="4.2" height="3.1" rx="0.9"/><rect x="-17.2" y="19.8" width="4.2" height="3.1" rx="0.9"/><rect x="-9.4" y="19.8" width="4.2" height="3.1" rx="0.9"/><rect x="-1.7" y="19.8" width="4.2" height="3.1" rx="0.9"/><rect x="6.0" y="19.8" width="4.2" height="3.1" rx="0.9"/><rect x="13.8" y="19.8" width="4.2" height="3.1" rx="0.9"/><rect x="21.5" y="19.8" width="4.2" height="3.1" rx="0.9"/></g><rect x="-14.5" y="16.5" width="50" height="19" rx="3" fill="#fff"/><rect x="-13" y="18" width="47" height="16" rx="2.2" fill="#1c1c1c"/><text x="11.2" y="31.3" text-anchor="middle" font-family='"Liberation Sans", sans-serif' font-weight="700" font-size="14.3" fill="#fff" textLength="39.5" lengthAdjust="spacingAndGlyphs">vEOS</text><rect x="41.2" y="-63.3" width="22" height="23" rx="3" fill="#fce9e8" opacity="0.9"/><rect x="45" y="-59.8" width="14.6" height="15.6" rx="2.6" fill="#c5281d"/><rect x="50.1" y="-56.6" width="4.6" height="9.2" rx="0.8" fill="#fff"/></g>
<g transform="translate(426.6,663.2)"><circle r="59.4" fill="#fff" stroke="#d9d9dc" stroke-width="6.6"/><g fill="none" stroke="#111" stroke-width="2.7" stroke-linejoin="round"><path d="M-30.3,-3 L-21.2,-26 Q-20.7,-27.2 -19.2,-27.2 L20.4,-27.2 Q21.9,-27.2 22.4,-26 L31.3,-3"/><rect x="-30.3" y="-3" width="61.6" height="30.6" rx="2.5"/></g><g fill="#111"><rect x="-24.9" y="5.0" width="4.2" height="3.1" rx="0.9"/><rect x="-17.2" y="5.0" width="4.2" height="3.1" rx="0.9"/><rect x="-9.4" y="5.0" width="4.2" height="3.1" rx="0.9"/><rect x="-1.7" y="5.0" width="4.2" height="3.1" rx="0.9"/><rect x="6.0" y="5.0" width="4.2" height="3.1" rx="0.9"/><rect x="13.8" y="5.0" width="4.2" height="3.1" rx="0.9"/><rect x="21.5" y="5.0" width="4.2" height="3.1" rx="0.9"/><rect x="-24.9" y="12.4" width="4.2" height="3.1" rx="0.9"/><rect x="-17.2" y="12.4" width="4.2" height="3.1" rx="0.9"/><rect x="-9.4" y="12.4" width="4.2" height="3.1" rx="0.9"/><rect x="-1.7" y="12.4" width="4.2" height="3.1" rx="0.9"/><rect x="6.0" y="12.4" width="4.2" height="3.1" rx="0.9"/><rect x="13.8" y="12.4" width="4.2" height="3.1" rx="0.9"/><rect x="21.5" y="12.4" width="4.2" height="3.1" rx="0.9"/><rect x="-24.9" y="19.8" width="4.2" height="3.1" rx="0.9"/><rect x="-17.2" y="19.8" width="4.2" height="3.1" rx="0.9"/><rect x="-9.4" y="19.8" width="4.2" height="3.1" rx="0.9"/><rect x="-1.7" y="19.8" width="4.2" height="3.1" rx="0.9"/><rect x="6.0" y="19.8" width="4.2" height="3.1" rx="0.9"/><rect x="13.8" y="19.8" width="4.2" height="3.1" rx="0.9"/><rect x="21.5" y="19.8" width="4.2" height="3.1" rx="0.9"/></g><rect x="-14.5" y="16.5" width="50" height="19" rx="3" fill="#fff"/><rect x="-13" y="18" width="47" height="16" rx="2.2" fill="#1c1c1c"/><text x="11.2" y="31.3" text-anchor="middle" font-family='"Liberation Sans", sans-serif' font-weight="700" font-size="14.3" fill="#fff" textLength="39.5" lengthAdjust="spacingAndGlyphs">vEOS</text><rect x="41.2" y="-63.3" width="22" height="23" rx="3" fill="#fce9e8" opacity="0.9"/><rect x="45" y="-59.8" width="14.6" height="15.6" rx="2.6" fill="#c5281d"/><rect x="50.1" y="-56.6" width="4.6" height="9.2" rx="0.8" fill="#fff"/></g>
<g transform="translate(1264,663.2)"><circle r="59.4" fill="#fff" stroke="#d9d9dc" stroke-width="6.6"/><g fill="none" stroke="#111" stroke-width="2.7" stroke-linejoin="round"><path d="M-30.3,-3 L-21.2,-26 Q-20.7,-27.2 -19.2,-27.2 L20.4,-27.2 Q21.9,-27.2 22.4,-26 L31.3,-3"/><rect x="-30.3" y="-3" width="61.6" height="30.6" rx="2.5"/></g><g fill="#111"><rect x="-24.9" y="5.0" width="4.2" height="3.1" rx="0.9"/><rect x="-17.2" y="5.0" width="4.2" height="3.1" rx="0.9"/><rect x="-9.4" y="5.0" width="4.2" height="3.1" rx="0.9"/><rect x="-1.7" y="5.0" width="4.2" height="3.1" rx="0.9"/><rect x="6.0" y="5.0" width="4.2" height="3.1" rx="0.9"/><rect x="13.8" y="5.0" width="4.2" height="3.1" rx="0.9"/><rect x="21.5" y="5.0" width="4.2" height="3.1" rx="0.9"/><rect x="-24.9" y="12.4" width="4.2" height="3.1" rx="0.9"/><rect x="-17.2" y="12.4" width="4.2" height="3.1" rx="0.9"/><rect x="-9.4" y="12.4" width="4.2" height="3.1" rx="0.9"/><rect x="-1.7" y="12.4" width="4.2" height="3.1" rx="0.9"/><rect x="6.0" y="12.4" width="4.2" height="3.1" rx="0.9"/><rect x="13.8" y="12.4" width="4.2" height="3.1" rx="0.9"/><rect x="21.5" y="12.4" width="4.2" height="3.1" rx="0.9"/><rect x="-24.9" y="19.8" width="4.2" height="3.1" rx="0.9"/><rect x="-17.2" y="19.8" width="4.2" height="3.1" rx="0.9"/><rect x="-9.4" y="19.8" width="4.2" height="3.1" rx="0.9"/><rect x="-1.7" y="19.8" width="4.2" height="3.1" rx="0.9"/><rect x="6.0" y="19.8" width="4.2" height="3.1" rx="0.9"/><rect x="13.8" y="19.8" width="4.2" height="3.1" rx="0.9"/><rect x="21.5" y="19.8" width="4.2" height="3.1" rx="0.9"/></g><rect x="42" y="-63.5" width="23" height="23" rx="2" fill="#fdf5da" opacity="0.9"/><path d="M52.7,-60.2 L60.7,-44 L44.7,-44 Z" fill="#e2b53a" stroke="#e2b53a" stroke-width="1.6" stroke-linejoin="round"/><rect x="51.5" y="-53" width="2.5" height="6.4" rx="1.1" fill="#fff6d8"/></g>
<rect x="-12" y="94.5" width="96.5" height="18" rx="9.0" fill="#fff" stroke="#dadbe0" stroke-width="1.2"/>
<text x="5.7" y="107.8" font-family='"Liberation Sans", sans-serif' font-size="12.2" fill="#4c4c4e" textLength="65" lengthAdjust="spacingAndGlyphs">2-US-West</text>
<rect x="57.5" y="158" width="65" height="18" rx="9.0" fill="#fff" stroke="#dadbe0" stroke-width="1.2"/>
<text x="68" y="171.3" font-family='"Liberation Sans", sans-serif' font-size="12.2" fill="#4c4c4e" textLength="41" lengthAdjust="spacingAndGlyphs">site101</text>
<rect x="550.7" y="158" width="52" height="17.8" rx="8.9" fill="#fff" stroke="#dadbe0" stroke-width="1.2"/>
<text x="561.2" y="171.3" font-family='"Liberation Sans", sans-serif' font-size="12.2" fill="#4c4c4e" textLength="28.4" lengthAdjust="spacingAndGlyphs">site..</text>
<rect x="986.7" y="158" width="52" height="17.8" rx="8.9" fill="#fff" stroke="#dadbe0" stroke-width="1.2"/>
<text x="997.2" y="171.3" font-family='"Liberation Sans", sans-serif' font-size="12.2" fill="#4c4c4e" textLength="28.4" lengthAdjust="spacingAndGlyphs">site..</text>
<rect x="1296.7" y="158" width="52" height="17.8" rx="8.9" fill="#fff" stroke="#dadbe0" stroke-width="1.2"/>
<text x="1307.2" y="171.3" font-family='"Liberation Sans", sans-serif' font-size="12.2" fill="#4c4c4e" textLength="28.4" lengthAdjust="spacingAndGlyphs">site..</text>
<rect x="303.7" y="531.5" width="52" height="17.8" rx="8.9" fill="#fff" stroke="#dadbe0" stroke-width="1.2"/>
<text x="314.2" y="544.8" font-family='"Liberation Sans", sans-serif' font-size="12.2" fill="#4c4c4e" textLength="28.4" lengthAdjust="spacingAndGlyphs">site..</text>
<rect x="1140.7" y="531.5" width="52" height="17.8" rx="8.9" fill="#fff" stroke="#dadbe0" stroke-width="1.2"/>
<text x="1151.2" y="544.8" font-family='"Liberation Sans", sans-serif' font-size="12.2" fill="#4c4c4e" textLength="28.4" lengthAdjust="spacingAndGlyphs">site..</text>
<text x="181" y="372.8" text-anchor="middle" font-family='"Liberation Sans", sans-serif' font-size="15" fill="#4b4b4d" textLength="105" lengthAdjust="spacingAndGlyphs">Site101-SJC-R1</text>
<text x="364.2" y="387.8" text-anchor="middle" font-family='"Liberation Sans", sans-serif' font-size="15" fill="#4b4b4d" textLength="107" lengthAdjust="spacingAndGlyphs">Site101-SJC-R2</text>
<text x="673" y="372.8" text-anchor="middle" font-family='"Liberation Sans", sans-serif' font-size="15" fill="#4b4b4d" textLength="143" lengthAdjust="spacingAndGlyphs">Site122-EQX-SEA-R1</text>
<text x="1110" y="372.8" text-anchor="middle" font-family='"Liberation Sans", sans-serif' font-size="15" fill="#4b4b4d" textLength="148" lengthAdjust="spacingAndGlyphs">Site108-GCP-BOS-R1</text>
<text x="1418.5" y="372.8" text-anchor="middle" font-family='"Liberation Sans", sans-serif' font-size="15" fill="#4b4b4d" textLength="140" lengthAdjust="spacingAndGlyphs">Site123-EQX-IAD-R1</text>
<text x="426.6" y="746.0999999999999" text-anchor="middle" font-family='"Liberation Sans", sans-serif' font-size="15" fill="#4b4b4d" textLength="108" lengthAdjust="spacingAndGlyphs">Site100-LAX-R1</text>
<text x="1264" y="746.0999999999999" text-anchor="middle" font-family='"Liberation Sans", sans-serif' font-size="15" fill="#4b4b4d" textLength="110" lengthAdjust="spacingAndGlyphs">Site121-DFW-R1</text>
</g>
</svg>
<div class="hdrline"></div>
<div class="leftline"></div>
<svg style="position:absolute;left:1440px;top:8px" width="150" height="56" viewBox="1440 8 150 56">
<defs><filter id="hb1" x="-30%" y="-60%" width="160%" height="220%"><feGaussianBlur stdDeviation="2.2"/></filter>
<filter id="hb2" x="-30%" y="-60%" width="160%" height="220%"><feGaussianBlur stdDeviation="1.6"/></filter></defs>
<circle cx="1458.3" cy="32.2" r="8.6" fill="#fff" stroke="#3567b7" stroke-width="1.4"/>
<text x="1458.3" y="37" text-anchor="middle" font-family='"Liberation Sans", sans-serif' font-size="13" fill="#3567b7">?</text>
<circle cx="1467.8" cy="22.6" r="3" fill="#ee4d4d"/>
<g filter="url(#hb2)"><rect x="1485.5" y="25.5" width="32" height="15.5" rx="5" fill="#3a4a36"/><rect x="1489" y="29.5" width="28" height="10.5" rx="4.5" fill="#48c436"/><rect x="1498" y="27.5" width="19" height="11" rx="4.5" fill="#48c436"/></g>
<g filter="url(#hb1)" fill="#c3d1ec"><rect x="1528" y="19" width="45" height="9" rx="3"/><rect x="1530" y="40" width="40" height="8" rx="3"/></g>
</svg>

<div class="date"><i></i></div>
<svg style="position:absolute;left:900px;top:80px" width="700" height="50" viewBox="900 80 700 50">
<text x="931.7" y="110" font-family='"Liberation Sans", sans-serif' font-size="14.6" fill="#3a60a9" textLength="214.5" lengthAdjust="spacingAndGlyphs">May 6, 2024 16:51:00 (3 hours)</text>
<!-- button groups -->
<g fill="#fff" stroke="#dedfe4" stroke-width="1">
<rect x="1178" y="87.5" width="105.5" height="34.5" rx="5"/>
<rect x="1300.5" y="87.5" width="70" height="34.5" rx="5"/>
<rect x="1389" y="87.5" width="104" height="34.5" rx="5"/>
<rect x="1511.5" y="87.5" width="70.5" height="34.5" rx="5"/>
</g>
<path d="M1305,87.5 H1336 V122 H1305 Q1300.5,122 1300.5,117.5 V92 Q1300.5,87.5 1305,87.5 Z" fill="#cbd9f1"/>
<path d="M1393.5,87.5 H1424.5 V122 H1393.5 Q1389,122 1389,117.5 V92 Q1389,87.5 1393.5,87.5 Z" fill="#cbd9f1"/>
<g stroke="#dcdde2" stroke-width="1.2" fill="none">
<path d="M1213.6,88 V121.5 M1249.1,88 V121.5 M1458.5,88 V121.5 M1546.6,88 V121.5"/>
</g>
<!-- fullscreen brackets -->
<g fill="none" stroke="#53575e" stroke-width="1.8" stroke-linecap="butt" stroke-linejoin="miter">
<path d="M1188.6,102.4 V98.3 H1193.8 M1198.4,98.3 H1203.4 V102.4 M1203.4,107.5 V111.4 H1198.4 M1193.8,111.4 H1188.6 V107.5"/>
</g>
<g fill="none" stroke="#53575e" stroke-width="1.2" stroke-linecap="round">
<!-- collapse: diagonals -->
<path d="M1222.2,97 L1227.6,102.2 M1238.6,97 L1233.2,102.2 M1222.2,112.9 L1227.6,107.7 M1238.6,112.9 L1233.2,107.7"/>
<!-- expand: X -->
<path d="M1259.4,99.4 L1271.8,110.6 M1271.8,99.4 L1259.4,110.6"/>
</g>
<g fill="#5a5e65" stroke="#5a5e65" stroke-width="0.6" stroke-linejoin="round">
<path d="M1228.9,103.3 V98.8 L1224.2,103.3 Z M1231.9,103.3 V98.8 L1236.6,103.3 Z M1228.9,106.6 V111.1 L1224.2,106.6 Z M1231.9,106.6 V111.1 L1236.6,106.6 Z"/>
<path d="M1257.9,98 H1262.6 L1257.9,102.6 Z M1273.3,98 H1268.6 L1273.3,102.6 Z M1257.9,112 H1262.6 L1257.9,107.4 Z M1273.3,112 H1268.6 L1273.3,107.4 Z"/>
</g>
<!-- graph icon (blue) -->
<g fill="none" stroke="#3b6cc6" stroke-width="1.8" stroke-linecap="round">
<circle cx="1319.1" cy="106.2" r="4.1"/>
<path d="M1310,106.2 H1314.6 M1317.2,102.4 L1315.4,99 M1322.3,103.4 L1326.4,100.6 M1322.6,108.6 L1326.4,110.6"/>
</g>
<g fill="#3b6cc6"><circle cx="1309.4" cy="106.2" r="1.8"/><circle cx="1315.1" cy="98.3" r="1.8"/><circle cx="1327" cy="100.1" r="1.8"/><circle cx="1327" cy="110.9" r="1.8"/></g>
<!-- globe -->
<circle cx="1353.2" cy="104.8" r="7.3" fill="none" stroke="#53575e" stroke-width="1.5"/>
<path d="M1346.4,103 Q1347,99.4 1350.4,98 L1354.6,98.2 L1355.6,100 L1353.6,100.6 L1353.2,102.6 L1351.4,103.2 L1351.8,104.8 L1350,105.2 L1348.4,103.6 Z M1351.8,105.8 L1355.6,105.4 L1357.4,107.2 L1356,108.8 L1355,111.6 L1353.4,111.4 L1353.2,108.6 L1351.6,107.4 Z M1356.6,99 L1359.4,101.6 L1360.2,104.8 L1358.4,103.6 L1356.8,101.4 Z" fill="#5a5e64"/>
<!-- hand pointer (blue) -->
<g fill="none" stroke="#3b6cc6" stroke-width="1.5" stroke-linecap="round" stroke-linejoin="round">
<path d="M1403.2,107.6 V98.8 Q1403.2,97.2 1404.8,97.2 Q1406.4,97.2 1406.4,98.8 V103.6 L1411.5,104.6 Q1413.3,105 1413.2,106.8 L1412.8,110.5 Q1412.5,112.7 1410.5,112.7 H1405 Q1403.5,112.7 1402.6,111.6 L1399.5,107.7 Q1398.8,106.4 1399.8,105.7 Q1400.8,105.2 1401.7,106.2 L1403.2,107.9"/>
<path d="M1406.7,107.4 V109.9 M1409.8,107.6 V109.9" stroke-width="1"/>
</g>
<!-- dashed rect + plus -->
<rect x="1432" y="98.6" width="13.6" height="12.8" rx="2.4" fill="none" stroke="#53575e" stroke-width="1.7" stroke-dasharray="3.8 2.1" stroke-dashoffset="1.5"/>
<circle cx="1445.7" cy="108.8" r="5.5" fill="#fff"/>
<circle cx="1445.7" cy="108.8" r="4.5" fill="#55585e"/>
<path d="M1443.1,108.8 H1448.3 M1445.7,106.2 V111.4" stroke="#fff" stroke-width="1.3" fill="none"/>
<!-- zoom in -->
<g fill="none" stroke="#53575e" stroke-width="1.5" stroke-linecap="round">
<circle cx="1474.5" cy="103.3" r="6.3"/>
<path d="M1479.2,108 L1484.4,112.7 M1471.6,103.3 H1477.4 M1474.5,100.4 V106.2"/>
</g>
<!-- download -->
<g fill="none" stroke="#53575e" stroke-linecap="butt" stroke-linejoin="miter">
<path d="M1520.8,101.8 V97.8 H1537.6 V101.8" stroke-width="1.8"/>
<path d="M1529.1,101 V112 M1524.9,108.2 L1529.1,112.4 L1533.3,108.2" stroke-width="1.4" stroke-linecap="round" stroke-linejoin="round"/>
</g>
<!-- gear -->
<g fill="none" stroke="#53575e">
<circle cx="1563.8" cy="104.7" r="7.5" stroke-width="2" stroke-dasharray="2.1 1.827"/>
<circle cx="1563.8" cy="104.7" r="5.9" stroke-width="1.5"/>
<path d="M1562.4,104.7 L1559.4,100.4 M1562.4,104.7 L1559.4,109 M1562.4,104.7 H1570" stroke-width="1.3"/>
</g>
</svg>

<div class="pathlbl"></div>
<svg style="position:absolute;left:977px;top:752px" width="609" height="36" viewBox="977 752 609 36">
<g font-family='"Liberation Sans", sans-serif' font-size="14.4" fill="#3e6bb6">
<text x="985" y="776" textLength="258" lengthAdjust="spacingAndGlyphs">deb-site121-VRF1-svr1.core.acvnx.net</text>
<text x="1269.4" y="776" textLength="291.8" lengthAdjust="spacingAndGlyphs">macmini-site100-VRF1-svr1.core.acvnx.net</text>
</g>
<g fill="none" stroke="#3e6bb6" stroke-width="1.5" stroke-linecap="round" stroke-linejoin="round">
<path d="M1250.5,771.3 H1263.5 M1259,766.8 L1263.7,771.3 L1259,775.8"/>
<path d="M1567.8,765.8 L1578.2,775.8 M1578.2,765.8 L1567.8,775.8" stroke-width="1.6"/>
</g>
</svg>

<div style="position:absolute;left:1520px;top:860px;width:63px;height:12px;box-sizing:border-box;border:1px solid #d9dadf;border-radius:5px;background:#fff"></div>
<div class="rightline"></div>
</body>
</html>
